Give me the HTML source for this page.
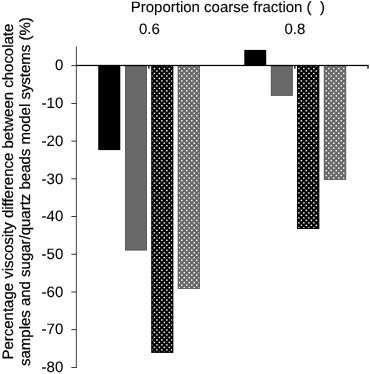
<!DOCTYPE html>
<html><head><meta charset="utf-8"><title>Chart</title>
<style>
html,body{margin:0;padding:0;background:#fff;}
body{width:370px;height:374px;overflow:hidden;}
svg{display:block;}
text{font-family:"Liberation Sans",Arial,sans-serif;font-size:15px;fill:#000;text-rendering:geometricPrecision;}
</style></head><body>
<svg width="370" height="374" viewBox="0 0 370 374">
<rect width="370" height="374" fill="#fff"/>

<rect x="98.25" y="65.45" width="22.05" height="84.65" fill="#000"/>
<rect x="125.0" y="65.45" width="22.00" height="184.90" fill="#696969"/>
<rect x="125.40" y="65.85" width="21.20" height="184.10" fill="none" stroke="#585858" stroke-width="0.8"/>
<rect x="151.4" y="65.45" width="21.80" height="287.30" fill="#000"/>
<g fill="#fff"><rect x="153.68" y="67.78" width="1.45" height="1.45"/><rect x="153.68" y="72.76" width="1.45" height="1.45"/><rect x="153.68" y="77.74" width="1.45" height="1.45"/><rect x="153.68" y="82.72" width="1.45" height="1.45"/><rect x="153.68" y="87.70" width="1.45" height="1.45"/><rect x="153.68" y="92.68" width="1.45" height="1.45"/><rect x="153.68" y="97.66" width="1.45" height="1.45"/><rect x="153.68" y="102.64" width="1.45" height="1.45"/><rect x="153.68" y="107.62" width="1.45" height="1.45"/><rect x="153.68" y="112.60" width="1.45" height="1.45"/><rect x="153.68" y="117.58" width="1.45" height="1.45"/><rect x="153.68" y="122.56" width="1.45" height="1.45"/><rect x="153.68" y="127.53" width="1.45" height="1.45"/><rect x="153.68" y="132.52" width="1.45" height="1.45"/><rect x="153.68" y="137.50" width="1.45" height="1.45"/><rect x="153.68" y="142.47" width="1.45" height="1.45"/><rect x="153.68" y="147.46" width="1.45" height="1.45"/><rect x="153.68" y="152.44" width="1.45" height="1.45"/><rect x="153.68" y="157.42" width="1.45" height="1.45"/><rect x="153.68" y="162.40" width="1.45" height="1.45"/><rect x="153.68" y="167.38" width="1.45" height="1.45"/><rect x="153.68" y="172.36" width="1.45" height="1.45"/><rect x="153.68" y="177.34" width="1.45" height="1.45"/><rect x="153.68" y="182.32" width="1.45" height="1.45"/><rect x="153.68" y="187.30" width="1.45" height="1.45"/><rect x="153.68" y="192.28" width="1.45" height="1.45"/><rect x="153.68" y="197.26" width="1.45" height="1.45"/><rect x="153.68" y="202.24" width="1.45" height="1.45"/><rect x="153.68" y="207.22" width="1.45" height="1.45"/><rect x="153.68" y="212.20" width="1.45" height="1.45"/><rect x="153.68" y="217.18" width="1.45" height="1.45"/><rect x="153.68" y="222.16" width="1.45" height="1.45"/><rect x="153.68" y="227.14" width="1.45" height="1.45"/><rect x="153.68" y="232.12" width="1.45" height="1.45"/><rect x="153.68" y="237.10" width="1.45" height="1.45"/><rect x="153.68" y="242.08" width="1.45" height="1.45"/><rect x="153.68" y="247.06" width="1.45" height="1.45"/><rect x="153.68" y="252.04" width="1.45" height="1.45"/><rect x="153.68" y="257.01" width="1.45" height="1.45"/><rect x="153.68" y="262.00" width="1.45" height="1.45"/><rect x="153.68" y="266.98" width="1.45" height="1.45"/><rect x="153.68" y="271.95" width="1.45" height="1.45"/><rect x="153.68" y="276.94" width="1.45" height="1.45"/><rect x="153.68" y="281.91" width="1.45" height="1.45"/><rect x="153.68" y="286.89" width="1.45" height="1.45"/><rect x="153.68" y="291.88" width="1.45" height="1.45"/><rect x="153.68" y="296.86" width="1.45" height="1.45"/><rect x="153.68" y="301.84" width="1.45" height="1.45"/><rect x="153.68" y="306.81" width="1.45" height="1.45"/><rect x="153.68" y="311.79" width="1.45" height="1.45"/><rect x="153.68" y="316.77" width="1.45" height="1.45"/><rect x="153.68" y="321.75" width="1.45" height="1.45"/><rect x="153.68" y="326.74" width="1.45" height="1.45"/><rect x="153.68" y="331.71" width="1.45" height="1.45"/><rect x="153.68" y="336.69" width="1.45" height="1.45"/><rect x="153.68" y="341.68" width="1.45" height="1.45"/><rect x="153.68" y="346.65" width="1.45" height="1.45"/><rect x="153.68" y="351.63" width="1.45" height="1.12"/><rect x="158.66" y="67.78" width="1.45" height="1.45"/><rect x="158.66" y="72.76" width="1.45" height="1.45"/><rect x="158.66" y="77.74" width="1.45" height="1.45"/><rect x="158.66" y="82.72" width="1.45" height="1.45"/><rect x="158.66" y="87.70" width="1.45" height="1.45"/><rect x="158.66" y="92.68" width="1.45" height="1.45"/><rect x="158.66" y="97.66" width="1.45" height="1.45"/><rect x="158.66" y="102.64" width="1.45" height="1.45"/><rect x="158.66" y="107.62" width="1.45" height="1.45"/><rect x="158.66" y="112.60" width="1.45" height="1.45"/><rect x="158.66" y="117.58" width="1.45" height="1.45"/><rect x="158.66" y="122.56" width="1.45" height="1.45"/><rect x="158.66" y="127.53" width="1.45" height="1.45"/><rect x="158.66" y="132.52" width="1.45" height="1.45"/><rect x="158.66" y="137.50" width="1.45" height="1.45"/><rect x="158.66" y="142.47" width="1.45" height="1.45"/><rect x="158.66" y="147.46" width="1.45" height="1.45"/><rect x="158.66" y="152.44" width="1.45" height="1.45"/><rect x="158.66" y="157.42" width="1.45" height="1.45"/><rect x="158.66" y="162.40" width="1.45" height="1.45"/><rect x="158.66" y="167.38" width="1.45" height="1.45"/><rect x="158.66" y="172.36" width="1.45" height="1.45"/><rect x="158.66" y="177.34" width="1.45" height="1.45"/><rect x="158.66" y="182.32" width="1.45" height="1.45"/><rect x="158.66" y="187.30" width="1.45" height="1.45"/><rect x="158.66" y="192.28" width="1.45" height="1.45"/><rect x="158.66" y="197.26" width="1.45" height="1.45"/><rect x="158.66" y="202.24" width="1.45" height="1.45"/><rect x="158.66" y="207.22" width="1.45" height="1.45"/><rect x="158.66" y="212.20" width="1.45" height="1.45"/><rect x="158.66" y="217.18" width="1.45" height="1.45"/><rect x="158.66" y="222.16" width="1.45" height="1.45"/><rect x="158.66" y="227.14" width="1.45" height="1.45"/><rect x="158.66" y="232.12" width="1.45" height="1.45"/><rect x="158.66" y="237.10" width="1.45" height="1.45"/><rect x="158.66" y="242.08" width="1.45" height="1.45"/><rect x="158.66" y="247.06" width="1.45" height="1.45"/><rect x="158.66" y="252.04" width="1.45" height="1.45"/><rect x="158.66" y="257.01" width="1.45" height="1.45"/><rect x="158.66" y="262.00" width="1.45" height="1.45"/><rect x="158.66" y="266.98" width="1.45" height="1.45"/><rect x="158.66" y="271.95" width="1.45" height="1.45"/><rect x="158.66" y="276.94" width="1.45" height="1.45"/><rect x="158.66" y="281.91" width="1.45" height="1.45"/><rect x="158.66" y="286.89" width="1.45" height="1.45"/><rect x="158.66" y="291.88" width="1.45" height="1.45"/><rect x="158.66" y="296.86" width="1.45" height="1.45"/><rect x="158.66" y="301.84" width="1.45" height="1.45"/><rect x="158.66" y="306.81" width="1.45" height="1.45"/><rect x="158.66" y="311.79" width="1.45" height="1.45"/><rect x="158.66" y="316.77" width="1.45" height="1.45"/><rect x="158.66" y="321.75" width="1.45" height="1.45"/><rect x="158.66" y="326.74" width="1.45" height="1.45"/><rect x="158.66" y="331.71" width="1.45" height="1.45"/><rect x="158.66" y="336.69" width="1.45" height="1.45"/><rect x="158.66" y="341.68" width="1.45" height="1.45"/><rect x="158.66" y="346.65" width="1.45" height="1.45"/><rect x="158.66" y="351.63" width="1.45" height="1.12"/><rect x="163.64" y="67.78" width="1.45" height="1.45"/><rect x="163.64" y="72.76" width="1.45" height="1.45"/><rect x="163.64" y="77.74" width="1.45" height="1.45"/><rect x="163.64" y="82.72" width="1.45" height="1.45"/><rect x="163.64" y="87.70" width="1.45" height="1.45"/><rect x="163.64" y="92.68" width="1.45" height="1.45"/><rect x="163.64" y="97.66" width="1.45" height="1.45"/><rect x="163.64" y="102.64" width="1.45" height="1.45"/><rect x="163.64" y="107.62" width="1.45" height="1.45"/><rect x="163.64" y="112.60" width="1.45" height="1.45"/><rect x="163.64" y="117.58" width="1.45" height="1.45"/><rect x="163.64" y="122.56" width="1.45" height="1.45"/><rect x="163.64" y="127.53" width="1.45" height="1.45"/><rect x="163.64" y="132.52" width="1.45" height="1.45"/><rect x="163.64" y="137.50" width="1.45" height="1.45"/><rect x="163.64" y="142.47" width="1.45" height="1.45"/><rect x="163.64" y="147.46" width="1.45" height="1.45"/><rect x="163.64" y="152.44" width="1.45" height="1.45"/><rect x="163.64" y="157.42" width="1.45" height="1.45"/><rect x="163.64" y="162.40" width="1.45" height="1.45"/><rect x="163.64" y="167.38" width="1.45" height="1.45"/><rect x="163.64" y="172.36" width="1.45" height="1.45"/><rect x="163.64" y="177.34" width="1.45" height="1.45"/><rect x="163.64" y="182.32" width="1.45" height="1.45"/><rect x="163.64" y="187.30" width="1.45" height="1.45"/><rect x="163.64" y="192.28" width="1.45" height="1.45"/><rect x="163.64" y="197.26" width="1.45" height="1.45"/><rect x="163.64" y="202.24" width="1.45" height="1.45"/><rect x="163.64" y="207.22" width="1.45" height="1.45"/><rect x="163.64" y="212.20" width="1.45" height="1.45"/><rect x="163.64" y="217.18" width="1.45" height="1.45"/><rect x="163.64" y="222.16" width="1.45" height="1.45"/><rect x="163.64" y="227.14" width="1.45" height="1.45"/><rect x="163.64" y="232.12" width="1.45" height="1.45"/><rect x="163.64" y="237.10" width="1.45" height="1.45"/><rect x="163.64" y="242.08" width="1.45" height="1.45"/><rect x="163.64" y="247.06" width="1.45" height="1.45"/><rect x="163.64" y="252.04" width="1.45" height="1.45"/><rect x="163.64" y="257.01" width="1.45" height="1.45"/><rect x="163.64" y="262.00" width="1.45" height="1.45"/><rect x="163.64" y="266.98" width="1.45" height="1.45"/><rect x="163.64" y="271.95" width="1.45" height="1.45"/><rect x="163.64" y="276.94" width="1.45" height="1.45"/><rect x="163.64" y="281.91" width="1.45" height="1.45"/><rect x="163.64" y="286.89" width="1.45" height="1.45"/><rect x="163.64" y="291.88" width="1.45" height="1.45"/><rect x="163.64" y="296.86" width="1.45" height="1.45"/><rect x="163.64" y="301.84" width="1.45" height="1.45"/><rect x="163.64" y="306.81" width="1.45" height="1.45"/><rect x="163.64" y="311.79" width="1.45" height="1.45"/><rect x="163.64" y="316.77" width="1.45" height="1.45"/><rect x="163.64" y="321.75" width="1.45" height="1.45"/><rect x="163.64" y="326.74" width="1.45" height="1.45"/><rect x="163.64" y="331.71" width="1.45" height="1.45"/><rect x="163.64" y="336.69" width="1.45" height="1.45"/><rect x="163.64" y="341.68" width="1.45" height="1.45"/><rect x="163.64" y="346.65" width="1.45" height="1.45"/><rect x="163.64" y="351.63" width="1.45" height="1.12"/><rect x="168.62" y="67.78" width="1.45" height="1.45"/><rect x="168.62" y="72.76" width="1.45" height="1.45"/><rect x="168.62" y="77.74" width="1.45" height="1.45"/><rect x="168.62" y="82.72" width="1.45" height="1.45"/><rect x="168.62" y="87.70" width="1.45" height="1.45"/><rect x="168.62" y="92.68" width="1.45" height="1.45"/><rect x="168.62" y="97.66" width="1.45" height="1.45"/><rect x="168.62" y="102.64" width="1.45" height="1.45"/><rect x="168.62" y="107.62" width="1.45" height="1.45"/><rect x="168.62" y="112.60" width="1.45" height="1.45"/><rect x="168.62" y="117.58" width="1.45" height="1.45"/><rect x="168.62" y="122.56" width="1.45" height="1.45"/><rect x="168.62" y="127.53" width="1.45" height="1.45"/><rect x="168.62" y="132.52" width="1.45" height="1.45"/><rect x="168.62" y="137.50" width="1.45" height="1.45"/><rect x="168.62" y="142.47" width="1.45" height="1.45"/><rect x="168.62" y="147.46" width="1.45" height="1.45"/><rect x="168.62" y="152.44" width="1.45" height="1.45"/><rect x="168.62" y="157.42" width="1.45" height="1.45"/><rect x="168.62" y="162.40" width="1.45" height="1.45"/><rect x="168.62" y="167.38" width="1.45" height="1.45"/><rect x="168.62" y="172.36" width="1.45" height="1.45"/><rect x="168.62" y="177.34" width="1.45" height="1.45"/><rect x="168.62" y="182.32" width="1.45" height="1.45"/><rect x="168.62" y="187.30" width="1.45" height="1.45"/><rect x="168.62" y="192.28" width="1.45" height="1.45"/><rect x="168.62" y="197.26" width="1.45" height="1.45"/><rect x="168.62" y="202.24" width="1.45" height="1.45"/><rect x="168.62" y="207.22" width="1.45" height="1.45"/><rect x="168.62" y="212.20" width="1.45" height="1.45"/><rect x="168.62" y="217.18" width="1.45" height="1.45"/><rect x="168.62" y="222.16" width="1.45" height="1.45"/><rect x="168.62" y="227.14" width="1.45" height="1.45"/><rect x="168.62" y="232.12" width="1.45" height="1.45"/><rect x="168.62" y="237.10" width="1.45" height="1.45"/><rect x="168.62" y="242.08" width="1.45" height="1.45"/><rect x="168.62" y="247.06" width="1.45" height="1.45"/><rect x="168.62" y="252.04" width="1.45" height="1.45"/><rect x="168.62" y="257.01" width="1.45" height="1.45"/><rect x="168.62" y="262.00" width="1.45" height="1.45"/><rect x="168.62" y="266.98" width="1.45" height="1.45"/><rect x="168.62" y="271.95" width="1.45" height="1.45"/><rect x="168.62" y="276.94" width="1.45" height="1.45"/><rect x="168.62" y="281.91" width="1.45" height="1.45"/><rect x="168.62" y="286.89" width="1.45" height="1.45"/><rect x="168.62" y="291.88" width="1.45" height="1.45"/><rect x="168.62" y="296.86" width="1.45" height="1.45"/><rect x="168.62" y="301.84" width="1.45" height="1.45"/><rect x="168.62" y="306.81" width="1.45" height="1.45"/><rect x="168.62" y="311.79" width="1.45" height="1.45"/><rect x="168.62" y="316.77" width="1.45" height="1.45"/><rect x="168.62" y="321.75" width="1.45" height="1.45"/><rect x="168.62" y="326.74" width="1.45" height="1.45"/><rect x="168.62" y="331.71" width="1.45" height="1.45"/><rect x="168.62" y="336.69" width="1.45" height="1.45"/><rect x="168.62" y="341.68" width="1.45" height="1.45"/><rect x="168.62" y="346.65" width="1.45" height="1.45"/><rect x="168.62" y="351.63" width="1.45" height="1.12"/><rect x="151.40" y="65.45" width="1.22" height="1.26"/><rect x="151.40" y="70.25" width="1.22" height="1.45"/><rect x="151.40" y="75.23" width="1.22" height="1.45"/><rect x="151.40" y="80.21" width="1.22" height="1.45"/><rect x="151.40" y="85.19" width="1.22" height="1.45"/><rect x="151.40" y="90.17" width="1.22" height="1.45"/><rect x="151.40" y="95.15" width="1.22" height="1.45"/><rect x="151.40" y="100.12" width="1.22" height="1.45"/><rect x="151.40" y="105.11" width="1.22" height="1.45"/><rect x="151.40" y="110.09" width="1.22" height="1.45"/><rect x="151.40" y="115.07" width="1.22" height="1.45"/><rect x="151.40" y="120.05" width="1.22" height="1.45"/><rect x="151.40" y="125.03" width="1.22" height="1.45"/><rect x="151.40" y="130.01" width="1.22" height="1.45"/><rect x="151.40" y="134.99" width="1.22" height="1.45"/><rect x="151.40" y="139.97" width="1.22" height="1.45"/><rect x="151.40" y="144.95" width="1.22" height="1.45"/><rect x="151.40" y="149.93" width="1.22" height="1.45"/><rect x="151.40" y="154.91" width="1.22" height="1.45"/><rect x="151.40" y="159.89" width="1.22" height="1.45"/><rect x="151.40" y="164.87" width="1.22" height="1.45"/><rect x="151.40" y="169.84" width="1.22" height="1.45"/><rect x="151.40" y="174.83" width="1.22" height="1.45"/><rect x="151.40" y="179.81" width="1.22" height="1.45"/><rect x="151.40" y="184.78" width="1.22" height="1.45"/><rect x="151.40" y="189.77" width="1.22" height="1.45"/><rect x="151.40" y="194.75" width="1.22" height="1.45"/><rect x="151.40" y="199.73" width="1.22" height="1.45"/><rect x="151.40" y="204.71" width="1.22" height="1.45"/><rect x="151.40" y="209.69" width="1.22" height="1.45"/><rect x="151.40" y="214.67" width="1.22" height="1.45"/><rect x="151.40" y="219.65" width="1.22" height="1.45"/><rect x="151.40" y="224.63" width="1.22" height="1.45"/><rect x="151.40" y="229.61" width="1.22" height="1.45"/><rect x="151.40" y="234.59" width="1.22" height="1.45"/><rect x="151.40" y="239.57" width="1.22" height="1.45"/><rect x="151.40" y="244.55" width="1.22" height="1.45"/><rect x="151.40" y="249.53" width="1.22" height="1.45"/><rect x="151.40" y="254.51" width="1.22" height="1.45"/><rect x="151.40" y="259.49" width="1.22" height="1.45"/><rect x="151.40" y="264.47" width="1.22" height="1.45"/><rect x="151.40" y="269.44" width="1.22" height="1.45"/><rect x="151.40" y="274.42" width="1.22" height="1.45"/><rect x="151.40" y="279.40" width="1.22" height="1.45"/><rect x="151.40" y="284.38" width="1.22" height="1.45"/><rect x="151.40" y="289.37" width="1.22" height="1.45"/><rect x="151.40" y="294.35" width="1.22" height="1.45"/><rect x="151.40" y="299.32" width="1.22" height="1.45"/><rect x="151.40" y="304.31" width="1.22" height="1.45"/><rect x="151.40" y="309.28" width="1.22" height="1.45"/><rect x="151.40" y="314.26" width="1.22" height="1.45"/><rect x="151.40" y="319.25" width="1.22" height="1.45"/><rect x="151.40" y="324.23" width="1.22" height="1.45"/><rect x="151.40" y="329.21" width="1.22" height="1.45"/><rect x="151.40" y="334.18" width="1.22" height="1.45"/><rect x="151.40" y="339.16" width="1.22" height="1.45"/><rect x="151.40" y="344.14" width="1.22" height="1.45"/><rect x="151.40" y="349.12" width="1.22" height="1.45"/><rect x="156.16" y="65.45" width="1.45" height="1.26"/><rect x="156.16" y="70.25" width="1.45" height="1.45"/><rect x="156.16" y="75.23" width="1.45" height="1.45"/><rect x="156.16" y="80.21" width="1.45" height="1.45"/><rect x="156.16" y="85.19" width="1.45" height="1.45"/><rect x="156.16" y="90.17" width="1.45" height="1.45"/><rect x="156.16" y="95.15" width="1.45" height="1.45"/><rect x="156.16" y="100.12" width="1.45" height="1.45"/><rect x="156.16" y="105.11" width="1.45" height="1.45"/><rect x="156.16" y="110.09" width="1.45" height="1.45"/><rect x="156.16" y="115.07" width="1.45" height="1.45"/><rect x="156.16" y="120.05" width="1.45" height="1.45"/><rect x="156.16" y="125.03" width="1.45" height="1.45"/><rect x="156.16" y="130.01" width="1.45" height="1.45"/><rect x="156.16" y="134.99" width="1.45" height="1.45"/><rect x="156.16" y="139.97" width="1.45" height="1.45"/><rect x="156.16" y="144.95" width="1.45" height="1.45"/><rect x="156.16" y="149.93" width="1.45" height="1.45"/><rect x="156.16" y="154.91" width="1.45" height="1.45"/><rect x="156.16" y="159.89" width="1.45" height="1.45"/><rect x="156.16" y="164.87" width="1.45" height="1.45"/><rect x="156.16" y="169.84" width="1.45" height="1.45"/><rect x="156.16" y="174.83" width="1.45" height="1.45"/><rect x="156.16" y="179.81" width="1.45" height="1.45"/><rect x="156.16" y="184.78" width="1.45" height="1.45"/><rect x="156.16" y="189.77" width="1.45" height="1.45"/><rect x="156.16" y="194.75" width="1.45" height="1.45"/><rect x="156.16" y="199.73" width="1.45" height="1.45"/><rect x="156.16" y="204.71" width="1.45" height="1.45"/><rect x="156.16" y="209.69" width="1.45" height="1.45"/><rect x="156.16" y="214.67" width="1.45" height="1.45"/><rect x="156.16" y="219.65" width="1.45" height="1.45"/><rect x="156.16" y="224.63" width="1.45" height="1.45"/><rect x="156.16" y="229.61" width="1.45" height="1.45"/><rect x="156.16" y="234.59" width="1.45" height="1.45"/><rect x="156.16" y="239.57" width="1.45" height="1.45"/><rect x="156.16" y="244.55" width="1.45" height="1.45"/><rect x="156.16" y="249.53" width="1.45" height="1.45"/><rect x="156.16" y="254.51" width="1.45" height="1.45"/><rect x="156.16" y="259.49" width="1.45" height="1.45"/><rect x="156.16" y="264.47" width="1.45" height="1.45"/><rect x="156.16" y="269.44" width="1.45" height="1.45"/><rect x="156.16" y="274.42" width="1.45" height="1.45"/><rect x="156.16" y="279.40" width="1.45" height="1.45"/><rect x="156.16" y="284.38" width="1.45" height="1.45"/><rect x="156.16" y="289.37" width="1.45" height="1.45"/><rect x="156.16" y="294.35" width="1.45" height="1.45"/><rect x="156.16" y="299.32" width="1.45" height="1.45"/><rect x="156.16" y="304.31" width="1.45" height="1.45"/><rect x="156.16" y="309.28" width="1.45" height="1.45"/><rect x="156.16" y="314.26" width="1.45" height="1.45"/><rect x="156.16" y="319.25" width="1.45" height="1.45"/><rect x="156.16" y="324.23" width="1.45" height="1.45"/><rect x="156.16" y="329.21" width="1.45" height="1.45"/><rect x="156.16" y="334.18" width="1.45" height="1.45"/><rect x="156.16" y="339.16" width="1.45" height="1.45"/><rect x="156.16" y="344.14" width="1.45" height="1.45"/><rect x="156.16" y="349.12" width="1.45" height="1.45"/><rect x="161.14" y="65.45" width="1.45" height="1.26"/><rect x="161.14" y="70.25" width="1.45" height="1.45"/><rect x="161.14" y="75.23" width="1.45" height="1.45"/><rect x="161.14" y="80.21" width="1.45" height="1.45"/><rect x="161.14" y="85.19" width="1.45" height="1.45"/><rect x="161.14" y="90.17" width="1.45" height="1.45"/><rect x="161.14" y="95.15" width="1.45" height="1.45"/><rect x="161.14" y="100.12" width="1.45" height="1.45"/><rect x="161.14" y="105.11" width="1.45" height="1.45"/><rect x="161.14" y="110.09" width="1.45" height="1.45"/><rect x="161.14" y="115.07" width="1.45" height="1.45"/><rect x="161.14" y="120.05" width="1.45" height="1.45"/><rect x="161.14" y="125.03" width="1.45" height="1.45"/><rect x="161.14" y="130.01" width="1.45" height="1.45"/><rect x="161.14" y="134.99" width="1.45" height="1.45"/><rect x="161.14" y="139.97" width="1.45" height="1.45"/><rect x="161.14" y="144.95" width="1.45" height="1.45"/><rect x="161.14" y="149.93" width="1.45" height="1.45"/><rect x="161.14" y="154.91" width="1.45" height="1.45"/><rect x="161.14" y="159.89" width="1.45" height="1.45"/><rect x="161.14" y="164.87" width="1.45" height="1.45"/><rect x="161.14" y="169.84" width="1.45" height="1.45"/><rect x="161.14" y="174.83" width="1.45" height="1.45"/><rect x="161.14" y="179.81" width="1.45" height="1.45"/><rect x="161.14" y="184.78" width="1.45" height="1.45"/><rect x="161.14" y="189.77" width="1.45" height="1.45"/><rect x="161.14" y="194.75" width="1.45" height="1.45"/><rect x="161.14" y="199.73" width="1.45" height="1.45"/><rect x="161.14" y="204.71" width="1.45" height="1.45"/><rect x="161.14" y="209.69" width="1.45" height="1.45"/><rect x="161.14" y="214.67" width="1.45" height="1.45"/><rect x="161.14" y="219.65" width="1.45" height="1.45"/><rect x="161.14" y="224.63" width="1.45" height="1.45"/><rect x="161.14" y="229.61" width="1.45" height="1.45"/><rect x="161.14" y="234.59" width="1.45" height="1.45"/><rect x="161.14" y="239.57" width="1.45" height="1.45"/><rect x="161.14" y="244.55" width="1.45" height="1.45"/><rect x="161.14" y="249.53" width="1.45" height="1.45"/><rect x="161.14" y="254.51" width="1.45" height="1.45"/><rect x="161.14" y="259.49" width="1.45" height="1.45"/><rect x="161.14" y="264.47" width="1.45" height="1.45"/><rect x="161.14" y="269.44" width="1.45" height="1.45"/><rect x="161.14" y="274.42" width="1.45" height="1.45"/><rect x="161.14" y="279.40" width="1.45" height="1.45"/><rect x="161.14" y="284.38" width="1.45" height="1.45"/><rect x="161.14" y="289.37" width="1.45" height="1.45"/><rect x="161.14" y="294.35" width="1.45" height="1.45"/><rect x="161.14" y="299.32" width="1.45" height="1.45"/><rect x="161.14" y="304.31" width="1.45" height="1.45"/><rect x="161.14" y="309.28" width="1.45" height="1.45"/><rect x="161.14" y="314.26" width="1.45" height="1.45"/><rect x="161.14" y="319.25" width="1.45" height="1.45"/><rect x="161.14" y="324.23" width="1.45" height="1.45"/><rect x="161.14" y="329.21" width="1.45" height="1.45"/><rect x="161.14" y="334.18" width="1.45" height="1.45"/><rect x="161.14" y="339.16" width="1.45" height="1.45"/><rect x="161.14" y="344.14" width="1.45" height="1.45"/><rect x="161.14" y="349.12" width="1.45" height="1.45"/><rect x="166.12" y="65.45" width="1.45" height="1.26"/><rect x="166.12" y="70.25" width="1.45" height="1.45"/><rect x="166.12" y="75.23" width="1.45" height="1.45"/><rect x="166.12" y="80.21" width="1.45" height="1.45"/><rect x="166.12" y="85.19" width="1.45" height="1.45"/><rect x="166.12" y="90.17" width="1.45" height="1.45"/><rect x="166.12" y="95.15" width="1.45" height="1.45"/><rect x="166.12" y="100.12" width="1.45" height="1.45"/><rect x="166.12" y="105.11" width="1.45" height="1.45"/><rect x="166.12" y="110.09" width="1.45" height="1.45"/><rect x="166.12" y="115.07" width="1.45" height="1.45"/><rect x="166.12" y="120.05" width="1.45" height="1.45"/><rect x="166.12" y="125.03" width="1.45" height="1.45"/><rect x="166.12" y="130.01" width="1.45" height="1.45"/><rect x="166.12" y="134.99" width="1.45" height="1.45"/><rect x="166.12" y="139.97" width="1.45" height="1.45"/><rect x="166.12" y="144.95" width="1.45" height="1.45"/><rect x="166.12" y="149.93" width="1.45" height="1.45"/><rect x="166.12" y="154.91" width="1.45" height="1.45"/><rect x="166.12" y="159.89" width="1.45" height="1.45"/><rect x="166.12" y="164.87" width="1.45" height="1.45"/><rect x="166.12" y="169.84" width="1.45" height="1.45"/><rect x="166.12" y="174.83" width="1.45" height="1.45"/><rect x="166.12" y="179.81" width="1.45" height="1.45"/><rect x="166.12" y="184.78" width="1.45" height="1.45"/><rect x="166.12" y="189.77" width="1.45" height="1.45"/><rect x="166.12" y="194.75" width="1.45" height="1.45"/><rect x="166.12" y="199.73" width="1.45" height="1.45"/><rect x="166.12" y="204.71" width="1.45" height="1.45"/><rect x="166.12" y="209.69" width="1.45" height="1.45"/><rect x="166.12" y="214.67" width="1.45" height="1.45"/><rect x="166.12" y="219.65" width="1.45" height="1.45"/><rect x="166.12" y="224.63" width="1.45" height="1.45"/><rect x="166.12" y="229.61" width="1.45" height="1.45"/><rect x="166.12" y="234.59" width="1.45" height="1.45"/><rect x="166.12" y="239.57" width="1.45" height="1.45"/><rect x="166.12" y="244.55" width="1.45" height="1.45"/><rect x="166.12" y="249.53" width="1.45" height="1.45"/><rect x="166.12" y="254.51" width="1.45" height="1.45"/><rect x="166.12" y="259.49" width="1.45" height="1.45"/><rect x="166.12" y="264.47" width="1.45" height="1.45"/><rect x="166.12" y="269.44" width="1.45" height="1.45"/><rect x="166.12" y="274.42" width="1.45" height="1.45"/><rect x="166.12" y="279.40" width="1.45" height="1.45"/><rect x="166.12" y="284.38" width="1.45" height="1.45"/><rect x="166.12" y="289.37" width="1.45" height="1.45"/><rect x="166.12" y="294.35" width="1.45" height="1.45"/><rect x="166.12" y="299.32" width="1.45" height="1.45"/><rect x="166.12" y="304.31" width="1.45" height="1.45"/><rect x="166.12" y="309.28" width="1.45" height="1.45"/><rect x="166.12" y="314.26" width="1.45" height="1.45"/><rect x="166.12" y="319.25" width="1.45" height="1.45"/><rect x="166.12" y="324.23" width="1.45" height="1.45"/><rect x="166.12" y="329.21" width="1.45" height="1.45"/><rect x="166.12" y="334.18" width="1.45" height="1.45"/><rect x="166.12" y="339.16" width="1.45" height="1.45"/><rect x="166.12" y="344.14" width="1.45" height="1.45"/><rect x="166.12" y="349.12" width="1.45" height="1.45"/><rect x="171.10" y="65.45" width="1.45" height="1.26"/><rect x="171.10" y="70.25" width="1.45" height="1.45"/><rect x="171.10" y="75.23" width="1.45" height="1.45"/><rect x="171.10" y="80.21" width="1.45" height="1.45"/><rect x="171.10" y="85.19" width="1.45" height="1.45"/><rect x="171.10" y="90.17" width="1.45" height="1.45"/><rect x="171.10" y="95.15" width="1.45" height="1.45"/><rect x="171.10" y="100.12" width="1.45" height="1.45"/><rect x="171.10" y="105.11" width="1.45" height="1.45"/><rect x="171.10" y="110.09" width="1.45" height="1.45"/><rect x="171.10" y="115.07" width="1.45" height="1.45"/><rect x="171.10" y="120.05" width="1.45" height="1.45"/><rect x="171.10" y="125.03" width="1.45" height="1.45"/><rect x="171.10" y="130.01" width="1.45" height="1.45"/><rect x="171.10" y="134.99" width="1.45" height="1.45"/><rect x="171.10" y="139.97" width="1.45" height="1.45"/><rect x="171.10" y="144.95" width="1.45" height="1.45"/><rect x="171.10" y="149.93" width="1.45" height="1.45"/><rect x="171.10" y="154.91" width="1.45" height="1.45"/><rect x="171.10" y="159.89" width="1.45" height="1.45"/><rect x="171.10" y="164.87" width="1.45" height="1.45"/><rect x="171.10" y="169.84" width="1.45" height="1.45"/><rect x="171.10" y="174.83" width="1.45" height="1.45"/><rect x="171.10" y="179.81" width="1.45" height="1.45"/><rect x="171.10" y="184.78" width="1.45" height="1.45"/><rect x="171.10" y="189.77" width="1.45" height="1.45"/><rect x="171.10" y="194.75" width="1.45" height="1.45"/><rect x="171.10" y="199.73" width="1.45" height="1.45"/><rect x="171.10" y="204.71" width="1.45" height="1.45"/><rect x="171.10" y="209.69" width="1.45" height="1.45"/><rect x="171.10" y="214.67" width="1.45" height="1.45"/><rect x="171.10" y="219.65" width="1.45" height="1.45"/><rect x="171.10" y="224.63" width="1.45" height="1.45"/><rect x="171.10" y="229.61" width="1.45" height="1.45"/><rect x="171.10" y="234.59" width="1.45" height="1.45"/><rect x="171.10" y="239.57" width="1.45" height="1.45"/><rect x="171.10" y="244.55" width="1.45" height="1.45"/><rect x="171.10" y="249.53" width="1.45" height="1.45"/><rect x="171.10" y="254.51" width="1.45" height="1.45"/><rect x="171.10" y="259.49" width="1.45" height="1.45"/><rect x="171.10" y="264.47" width="1.45" height="1.45"/><rect x="171.10" y="269.44" width="1.45" height="1.45"/><rect x="171.10" y="274.42" width="1.45" height="1.45"/><rect x="171.10" y="279.40" width="1.45" height="1.45"/><rect x="171.10" y="284.38" width="1.45" height="1.45"/><rect x="171.10" y="289.37" width="1.45" height="1.45"/><rect x="171.10" y="294.35" width="1.45" height="1.45"/><rect x="171.10" y="299.32" width="1.45" height="1.45"/><rect x="171.10" y="304.31" width="1.45" height="1.45"/><rect x="171.10" y="309.28" width="1.45" height="1.45"/><rect x="171.10" y="314.26" width="1.45" height="1.45"/><rect x="171.10" y="319.25" width="1.45" height="1.45"/><rect x="171.10" y="324.23" width="1.45" height="1.45"/><rect x="171.10" y="329.21" width="1.45" height="1.45"/><rect x="171.10" y="334.18" width="1.45" height="1.45"/><rect x="171.10" y="339.16" width="1.45" height="1.45"/><rect x="171.10" y="344.14" width="1.45" height="1.45"/><rect x="171.10" y="349.12" width="1.45" height="1.45"/></g>
<rect x="151.90" y="65.95" width="20.80" height="286.30" fill="none" stroke="#000" stroke-width="1.0"/>
<rect x="177.8" y="65.45" width="22.10" height="223.30" fill="#686868"/>
<g fill="#fff"><rect x="178.59" y="67.78" width="1.45" height="1.45"/><rect x="178.59" y="72.76" width="1.45" height="1.45"/><rect x="178.59" y="77.74" width="1.45" height="1.45"/><rect x="178.59" y="82.72" width="1.45" height="1.45"/><rect x="178.59" y="87.70" width="1.45" height="1.45"/><rect x="178.59" y="92.68" width="1.45" height="1.45"/><rect x="178.59" y="97.66" width="1.45" height="1.45"/><rect x="178.59" y="102.64" width="1.45" height="1.45"/><rect x="178.59" y="107.62" width="1.45" height="1.45"/><rect x="178.59" y="112.60" width="1.45" height="1.45"/><rect x="178.59" y="117.58" width="1.45" height="1.45"/><rect x="178.59" y="122.56" width="1.45" height="1.45"/><rect x="178.59" y="127.53" width="1.45" height="1.45"/><rect x="178.59" y="132.52" width="1.45" height="1.45"/><rect x="178.59" y="137.50" width="1.45" height="1.45"/><rect x="178.59" y="142.47" width="1.45" height="1.45"/><rect x="178.59" y="147.46" width="1.45" height="1.45"/><rect x="178.59" y="152.44" width="1.45" height="1.45"/><rect x="178.59" y="157.42" width="1.45" height="1.45"/><rect x="178.59" y="162.40" width="1.45" height="1.45"/><rect x="178.59" y="167.38" width="1.45" height="1.45"/><rect x="178.59" y="172.36" width="1.45" height="1.45"/><rect x="178.59" y="177.34" width="1.45" height="1.45"/><rect x="178.59" y="182.32" width="1.45" height="1.45"/><rect x="178.59" y="187.30" width="1.45" height="1.45"/><rect x="178.59" y="192.28" width="1.45" height="1.45"/><rect x="178.59" y="197.26" width="1.45" height="1.45"/><rect x="178.59" y="202.24" width="1.45" height="1.45"/><rect x="178.59" y="207.22" width="1.45" height="1.45"/><rect x="178.59" y="212.20" width="1.45" height="1.45"/><rect x="178.59" y="217.18" width="1.45" height="1.45"/><rect x="178.59" y="222.16" width="1.45" height="1.45"/><rect x="178.59" y="227.14" width="1.45" height="1.45"/><rect x="178.59" y="232.12" width="1.45" height="1.45"/><rect x="178.59" y="237.10" width="1.45" height="1.45"/><rect x="178.59" y="242.08" width="1.45" height="1.45"/><rect x="178.59" y="247.06" width="1.45" height="1.45"/><rect x="178.59" y="252.04" width="1.45" height="1.45"/><rect x="178.59" y="257.01" width="1.45" height="1.45"/><rect x="178.59" y="262.00" width="1.45" height="1.45"/><rect x="178.59" y="266.98" width="1.45" height="1.45"/><rect x="178.59" y="271.95" width="1.45" height="1.45"/><rect x="178.59" y="276.94" width="1.45" height="1.45"/><rect x="178.59" y="281.91" width="1.45" height="1.45"/><rect x="178.59" y="286.89" width="1.45" height="1.45"/><rect x="183.57" y="67.78" width="1.45" height="1.45"/><rect x="183.57" y="72.76" width="1.45" height="1.45"/><rect x="183.57" y="77.74" width="1.45" height="1.45"/><rect x="183.57" y="82.72" width="1.45" height="1.45"/><rect x="183.57" y="87.70" width="1.45" height="1.45"/><rect x="183.57" y="92.68" width="1.45" height="1.45"/><rect x="183.57" y="97.66" width="1.45" height="1.45"/><rect x="183.57" y="102.64" width="1.45" height="1.45"/><rect x="183.57" y="107.62" width="1.45" height="1.45"/><rect x="183.57" y="112.60" width="1.45" height="1.45"/><rect x="183.57" y="117.58" width="1.45" height="1.45"/><rect x="183.57" y="122.56" width="1.45" height="1.45"/><rect x="183.57" y="127.53" width="1.45" height="1.45"/><rect x="183.57" y="132.52" width="1.45" height="1.45"/><rect x="183.57" y="137.50" width="1.45" height="1.45"/><rect x="183.57" y="142.47" width="1.45" height="1.45"/><rect x="183.57" y="147.46" width="1.45" height="1.45"/><rect x="183.57" y="152.44" width="1.45" height="1.45"/><rect x="183.57" y="157.42" width="1.45" height="1.45"/><rect x="183.57" y="162.40" width="1.45" height="1.45"/><rect x="183.57" y="167.38" width="1.45" height="1.45"/><rect x="183.57" y="172.36" width="1.45" height="1.45"/><rect x="183.57" y="177.34" width="1.45" height="1.45"/><rect x="183.57" y="182.32" width="1.45" height="1.45"/><rect x="183.57" y="187.30" width="1.45" height="1.45"/><rect x="183.57" y="192.28" width="1.45" height="1.45"/><rect x="183.57" y="197.26" width="1.45" height="1.45"/><rect x="183.57" y="202.24" width="1.45" height="1.45"/><rect x="183.57" y="207.22" width="1.45" height="1.45"/><rect x="183.57" y="212.20" width="1.45" height="1.45"/><rect x="183.57" y="217.18" width="1.45" height="1.45"/><rect x="183.57" y="222.16" width="1.45" height="1.45"/><rect x="183.57" y="227.14" width="1.45" height="1.45"/><rect x="183.57" y="232.12" width="1.45" height="1.45"/><rect x="183.57" y="237.10" width="1.45" height="1.45"/><rect x="183.57" y="242.08" width="1.45" height="1.45"/><rect x="183.57" y="247.06" width="1.45" height="1.45"/><rect x="183.57" y="252.04" width="1.45" height="1.45"/><rect x="183.57" y="257.01" width="1.45" height="1.45"/><rect x="183.57" y="262.00" width="1.45" height="1.45"/><rect x="183.57" y="266.98" width="1.45" height="1.45"/><rect x="183.57" y="271.95" width="1.45" height="1.45"/><rect x="183.57" y="276.94" width="1.45" height="1.45"/><rect x="183.57" y="281.91" width="1.45" height="1.45"/><rect x="183.57" y="286.89" width="1.45" height="1.45"/><rect x="188.55" y="67.78" width="1.45" height="1.45"/><rect x="188.55" y="72.76" width="1.45" height="1.45"/><rect x="188.55" y="77.74" width="1.45" height="1.45"/><rect x="188.55" y="82.72" width="1.45" height="1.45"/><rect x="188.55" y="87.70" width="1.45" height="1.45"/><rect x="188.55" y="92.68" width="1.45" height="1.45"/><rect x="188.55" y="97.66" width="1.45" height="1.45"/><rect x="188.55" y="102.64" width="1.45" height="1.45"/><rect x="188.55" y="107.62" width="1.45" height="1.45"/><rect x="188.55" y="112.60" width="1.45" height="1.45"/><rect x="188.55" y="117.58" width="1.45" height="1.45"/><rect x="188.55" y="122.56" width="1.45" height="1.45"/><rect x="188.55" y="127.53" width="1.45" height="1.45"/><rect x="188.55" y="132.52" width="1.45" height="1.45"/><rect x="188.55" y="137.50" width="1.45" height="1.45"/><rect x="188.55" y="142.47" width="1.45" height="1.45"/><rect x="188.55" y="147.46" width="1.45" height="1.45"/><rect x="188.55" y="152.44" width="1.45" height="1.45"/><rect x="188.55" y="157.42" width="1.45" height="1.45"/><rect x="188.55" y="162.40" width="1.45" height="1.45"/><rect x="188.55" y="167.38" width="1.45" height="1.45"/><rect x="188.55" y="172.36" width="1.45" height="1.45"/><rect x="188.55" y="177.34" width="1.45" height="1.45"/><rect x="188.55" y="182.32" width="1.45" height="1.45"/><rect x="188.55" y="187.30" width="1.45" height="1.45"/><rect x="188.55" y="192.28" width="1.45" height="1.45"/><rect x="188.55" y="197.26" width="1.45" height="1.45"/><rect x="188.55" y="202.24" width="1.45" height="1.45"/><rect x="188.55" y="207.22" width="1.45" height="1.45"/><rect x="188.55" y="212.20" width="1.45" height="1.45"/><rect x="188.55" y="217.18" width="1.45" height="1.45"/><rect x="188.55" y="222.16" width="1.45" height="1.45"/><rect x="188.55" y="227.14" width="1.45" height="1.45"/><rect x="188.55" y="232.12" width="1.45" height="1.45"/><rect x="188.55" y="237.10" width="1.45" height="1.45"/><rect x="188.55" y="242.08" width="1.45" height="1.45"/><rect x="188.55" y="247.06" width="1.45" height="1.45"/><rect x="188.55" y="252.04" width="1.45" height="1.45"/><rect x="188.55" y="257.01" width="1.45" height="1.45"/><rect x="188.55" y="262.00" width="1.45" height="1.45"/><rect x="188.55" y="266.98" width="1.45" height="1.45"/><rect x="188.55" y="271.95" width="1.45" height="1.45"/><rect x="188.55" y="276.94" width="1.45" height="1.45"/><rect x="188.55" y="281.91" width="1.45" height="1.45"/><rect x="188.55" y="286.89" width="1.45" height="1.45"/><rect x="193.53" y="67.78" width="1.45" height="1.45"/><rect x="193.53" y="72.76" width="1.45" height="1.45"/><rect x="193.53" y="77.74" width="1.45" height="1.45"/><rect x="193.53" y="82.72" width="1.45" height="1.45"/><rect x="193.53" y="87.70" width="1.45" height="1.45"/><rect x="193.53" y="92.68" width="1.45" height="1.45"/><rect x="193.53" y="97.66" width="1.45" height="1.45"/><rect x="193.53" y="102.64" width="1.45" height="1.45"/><rect x="193.53" y="107.62" width="1.45" height="1.45"/><rect x="193.53" y="112.60" width="1.45" height="1.45"/><rect x="193.53" y="117.58" width="1.45" height="1.45"/><rect x="193.53" y="122.56" width="1.45" height="1.45"/><rect x="193.53" y="127.53" width="1.45" height="1.45"/><rect x="193.53" y="132.52" width="1.45" height="1.45"/><rect x="193.53" y="137.50" width="1.45" height="1.45"/><rect x="193.53" y="142.47" width="1.45" height="1.45"/><rect x="193.53" y="147.46" width="1.45" height="1.45"/><rect x="193.53" y="152.44" width="1.45" height="1.45"/><rect x="193.53" y="157.42" width="1.45" height="1.45"/><rect x="193.53" y="162.40" width="1.45" height="1.45"/><rect x="193.53" y="167.38" width="1.45" height="1.45"/><rect x="193.53" y="172.36" width="1.45" height="1.45"/><rect x="193.53" y="177.34" width="1.45" height="1.45"/><rect x="193.53" y="182.32" width="1.45" height="1.45"/><rect x="193.53" y="187.30" width="1.45" height="1.45"/><rect x="193.53" y="192.28" width="1.45" height="1.45"/><rect x="193.53" y="197.26" width="1.45" height="1.45"/><rect x="193.53" y="202.24" width="1.45" height="1.45"/><rect x="193.53" y="207.22" width="1.45" height="1.45"/><rect x="193.53" y="212.20" width="1.45" height="1.45"/><rect x="193.53" y="217.18" width="1.45" height="1.45"/><rect x="193.53" y="222.16" width="1.45" height="1.45"/><rect x="193.53" y="227.14" width="1.45" height="1.45"/><rect x="193.53" y="232.12" width="1.45" height="1.45"/><rect x="193.53" y="237.10" width="1.45" height="1.45"/><rect x="193.53" y="242.08" width="1.45" height="1.45"/><rect x="193.53" y="247.06" width="1.45" height="1.45"/><rect x="193.53" y="252.04" width="1.45" height="1.45"/><rect x="193.53" y="257.01" width="1.45" height="1.45"/><rect x="193.53" y="262.00" width="1.45" height="1.45"/><rect x="193.53" y="266.98" width="1.45" height="1.45"/><rect x="193.53" y="271.95" width="1.45" height="1.45"/><rect x="193.53" y="276.94" width="1.45" height="1.45"/><rect x="193.53" y="281.91" width="1.45" height="1.45"/><rect x="193.53" y="286.89" width="1.45" height="1.45"/><rect x="198.51" y="67.78" width="1.39" height="1.45"/><rect x="198.51" y="72.76" width="1.39" height="1.45"/><rect x="198.51" y="77.74" width="1.39" height="1.45"/><rect x="198.51" y="82.72" width="1.39" height="1.45"/><rect x="198.51" y="87.70" width="1.39" height="1.45"/><rect x="198.51" y="92.68" width="1.39" height="1.45"/><rect x="198.51" y="97.66" width="1.39" height="1.45"/><rect x="198.51" y="102.64" width="1.39" height="1.45"/><rect x="198.51" y="107.62" width="1.39" height="1.45"/><rect x="198.51" y="112.60" width="1.39" height="1.45"/><rect x="198.51" y="117.58" width="1.39" height="1.45"/><rect x="198.51" y="122.56" width="1.39" height="1.45"/><rect x="198.51" y="127.53" width="1.39" height="1.45"/><rect x="198.51" y="132.52" width="1.39" height="1.45"/><rect x="198.51" y="137.50" width="1.39" height="1.45"/><rect x="198.51" y="142.47" width="1.39" height="1.45"/><rect x="198.51" y="147.46" width="1.39" height="1.45"/><rect x="198.51" y="152.44" width="1.39" height="1.45"/><rect x="198.51" y="157.42" width="1.39" height="1.45"/><rect x="198.51" y="162.40" width="1.39" height="1.45"/><rect x="198.51" y="167.38" width="1.39" height="1.45"/><rect x="198.51" y="172.36" width="1.39" height="1.45"/><rect x="198.51" y="177.34" width="1.39" height="1.45"/><rect x="198.51" y="182.32" width="1.39" height="1.45"/><rect x="198.51" y="187.30" width="1.39" height="1.45"/><rect x="198.51" y="192.28" width="1.39" height="1.45"/><rect x="198.51" y="197.26" width="1.39" height="1.45"/><rect x="198.51" y="202.24" width="1.39" height="1.45"/><rect x="198.51" y="207.22" width="1.39" height="1.45"/><rect x="198.51" y="212.20" width="1.39" height="1.45"/><rect x="198.51" y="217.18" width="1.39" height="1.45"/><rect x="198.51" y="222.16" width="1.39" height="1.45"/><rect x="198.51" y="227.14" width="1.39" height="1.45"/><rect x="198.51" y="232.12" width="1.39" height="1.45"/><rect x="198.51" y="237.10" width="1.39" height="1.45"/><rect x="198.51" y="242.08" width="1.39" height="1.45"/><rect x="198.51" y="247.06" width="1.39" height="1.45"/><rect x="198.51" y="252.04" width="1.39" height="1.45"/><rect x="198.51" y="257.01" width="1.39" height="1.45"/><rect x="198.51" y="262.00" width="1.39" height="1.45"/><rect x="198.51" y="266.98" width="1.39" height="1.45"/><rect x="198.51" y="271.95" width="1.39" height="1.45"/><rect x="198.51" y="276.94" width="1.39" height="1.45"/><rect x="198.51" y="281.91" width="1.39" height="1.45"/><rect x="198.51" y="286.89" width="1.39" height="1.45"/><rect x="181.06" y="65.45" width="1.45" height="1.26"/><rect x="181.06" y="70.25" width="1.45" height="1.45"/><rect x="181.06" y="75.23" width="1.45" height="1.45"/><rect x="181.06" y="80.21" width="1.45" height="1.45"/><rect x="181.06" y="85.19" width="1.45" height="1.45"/><rect x="181.06" y="90.17" width="1.45" height="1.45"/><rect x="181.06" y="95.15" width="1.45" height="1.45"/><rect x="181.06" y="100.12" width="1.45" height="1.45"/><rect x="181.06" y="105.11" width="1.45" height="1.45"/><rect x="181.06" y="110.09" width="1.45" height="1.45"/><rect x="181.06" y="115.07" width="1.45" height="1.45"/><rect x="181.06" y="120.05" width="1.45" height="1.45"/><rect x="181.06" y="125.03" width="1.45" height="1.45"/><rect x="181.06" y="130.01" width="1.45" height="1.45"/><rect x="181.06" y="134.99" width="1.45" height="1.45"/><rect x="181.06" y="139.97" width="1.45" height="1.45"/><rect x="181.06" y="144.95" width="1.45" height="1.45"/><rect x="181.06" y="149.93" width="1.45" height="1.45"/><rect x="181.06" y="154.91" width="1.45" height="1.45"/><rect x="181.06" y="159.89" width="1.45" height="1.45"/><rect x="181.06" y="164.87" width="1.45" height="1.45"/><rect x="181.06" y="169.84" width="1.45" height="1.45"/><rect x="181.06" y="174.83" width="1.45" height="1.45"/><rect x="181.06" y="179.81" width="1.45" height="1.45"/><rect x="181.06" y="184.78" width="1.45" height="1.45"/><rect x="181.06" y="189.77" width="1.45" height="1.45"/><rect x="181.06" y="194.75" width="1.45" height="1.45"/><rect x="181.06" y="199.73" width="1.45" height="1.45"/><rect x="181.06" y="204.71" width="1.45" height="1.45"/><rect x="181.06" y="209.69" width="1.45" height="1.45"/><rect x="181.06" y="214.67" width="1.45" height="1.45"/><rect x="181.06" y="219.65" width="1.45" height="1.45"/><rect x="181.06" y="224.63" width="1.45" height="1.45"/><rect x="181.06" y="229.61" width="1.45" height="1.45"/><rect x="181.06" y="234.59" width="1.45" height="1.45"/><rect x="181.06" y="239.57" width="1.45" height="1.45"/><rect x="181.06" y="244.55" width="1.45" height="1.45"/><rect x="181.06" y="249.53" width="1.45" height="1.45"/><rect x="181.06" y="254.51" width="1.45" height="1.45"/><rect x="181.06" y="259.49" width="1.45" height="1.45"/><rect x="181.06" y="264.47" width="1.45" height="1.45"/><rect x="181.06" y="269.44" width="1.45" height="1.45"/><rect x="181.06" y="274.42" width="1.45" height="1.45"/><rect x="181.06" y="279.40" width="1.45" height="1.45"/><rect x="181.06" y="284.38" width="1.45" height="1.45"/><rect x="186.05" y="65.45" width="1.45" height="1.26"/><rect x="186.05" y="70.25" width="1.45" height="1.45"/><rect x="186.05" y="75.23" width="1.45" height="1.45"/><rect x="186.05" y="80.21" width="1.45" height="1.45"/><rect x="186.05" y="85.19" width="1.45" height="1.45"/><rect x="186.05" y="90.17" width="1.45" height="1.45"/><rect x="186.05" y="95.15" width="1.45" height="1.45"/><rect x="186.05" y="100.12" width="1.45" height="1.45"/><rect x="186.05" y="105.11" width="1.45" height="1.45"/><rect x="186.05" y="110.09" width="1.45" height="1.45"/><rect x="186.05" y="115.07" width="1.45" height="1.45"/><rect x="186.05" y="120.05" width="1.45" height="1.45"/><rect x="186.05" y="125.03" width="1.45" height="1.45"/><rect x="186.05" y="130.01" width="1.45" height="1.45"/><rect x="186.05" y="134.99" width="1.45" height="1.45"/><rect x="186.05" y="139.97" width="1.45" height="1.45"/><rect x="186.05" y="144.95" width="1.45" height="1.45"/><rect x="186.05" y="149.93" width="1.45" height="1.45"/><rect x="186.05" y="154.91" width="1.45" height="1.45"/><rect x="186.05" y="159.89" width="1.45" height="1.45"/><rect x="186.05" y="164.87" width="1.45" height="1.45"/><rect x="186.05" y="169.84" width="1.45" height="1.45"/><rect x="186.05" y="174.83" width="1.45" height="1.45"/><rect x="186.05" y="179.81" width="1.45" height="1.45"/><rect x="186.05" y="184.78" width="1.45" height="1.45"/><rect x="186.05" y="189.77" width="1.45" height="1.45"/><rect x="186.05" y="194.75" width="1.45" height="1.45"/><rect x="186.05" y="199.73" width="1.45" height="1.45"/><rect x="186.05" y="204.71" width="1.45" height="1.45"/><rect x="186.05" y="209.69" width="1.45" height="1.45"/><rect x="186.05" y="214.67" width="1.45" height="1.45"/><rect x="186.05" y="219.65" width="1.45" height="1.45"/><rect x="186.05" y="224.63" width="1.45" height="1.45"/><rect x="186.05" y="229.61" width="1.45" height="1.45"/><rect x="186.05" y="234.59" width="1.45" height="1.45"/><rect x="186.05" y="239.57" width="1.45" height="1.45"/><rect x="186.05" y="244.55" width="1.45" height="1.45"/><rect x="186.05" y="249.53" width="1.45" height="1.45"/><rect x="186.05" y="254.51" width="1.45" height="1.45"/><rect x="186.05" y="259.49" width="1.45" height="1.45"/><rect x="186.05" y="264.47" width="1.45" height="1.45"/><rect x="186.05" y="269.44" width="1.45" height="1.45"/><rect x="186.05" y="274.42" width="1.45" height="1.45"/><rect x="186.05" y="279.40" width="1.45" height="1.45"/><rect x="186.05" y="284.38" width="1.45" height="1.45"/><rect x="191.03" y="65.45" width="1.45" height="1.26"/><rect x="191.03" y="70.25" width="1.45" height="1.45"/><rect x="191.03" y="75.23" width="1.45" height="1.45"/><rect x="191.03" y="80.21" width="1.45" height="1.45"/><rect x="191.03" y="85.19" width="1.45" height="1.45"/><rect x="191.03" y="90.17" width="1.45" height="1.45"/><rect x="191.03" y="95.15" width="1.45" height="1.45"/><rect x="191.03" y="100.12" width="1.45" height="1.45"/><rect x="191.03" y="105.11" width="1.45" height="1.45"/><rect x="191.03" y="110.09" width="1.45" height="1.45"/><rect x="191.03" y="115.07" width="1.45" height="1.45"/><rect x="191.03" y="120.05" width="1.45" height="1.45"/><rect x="191.03" y="125.03" width="1.45" height="1.45"/><rect x="191.03" y="130.01" width="1.45" height="1.45"/><rect x="191.03" y="134.99" width="1.45" height="1.45"/><rect x="191.03" y="139.97" width="1.45" height="1.45"/><rect x="191.03" y="144.95" width="1.45" height="1.45"/><rect x="191.03" y="149.93" width="1.45" height="1.45"/><rect x="191.03" y="154.91" width="1.45" height="1.45"/><rect x="191.03" y="159.89" width="1.45" height="1.45"/><rect x="191.03" y="164.87" width="1.45" height="1.45"/><rect x="191.03" y="169.84" width="1.45" height="1.45"/><rect x="191.03" y="174.83" width="1.45" height="1.45"/><rect x="191.03" y="179.81" width="1.45" height="1.45"/><rect x="191.03" y="184.78" width="1.45" height="1.45"/><rect x="191.03" y="189.77" width="1.45" height="1.45"/><rect x="191.03" y="194.75" width="1.45" height="1.45"/><rect x="191.03" y="199.73" width="1.45" height="1.45"/><rect x="191.03" y="204.71" width="1.45" height="1.45"/><rect x="191.03" y="209.69" width="1.45" height="1.45"/><rect x="191.03" y="214.67" width="1.45" height="1.45"/><rect x="191.03" y="219.65" width="1.45" height="1.45"/><rect x="191.03" y="224.63" width="1.45" height="1.45"/><rect x="191.03" y="229.61" width="1.45" height="1.45"/><rect x="191.03" y="234.59" width="1.45" height="1.45"/><rect x="191.03" y="239.57" width="1.45" height="1.45"/><rect x="191.03" y="244.55" width="1.45" height="1.45"/><rect x="191.03" y="249.53" width="1.45" height="1.45"/><rect x="191.03" y="254.51" width="1.45" height="1.45"/><rect x="191.03" y="259.49" width="1.45" height="1.45"/><rect x="191.03" y="264.47" width="1.45" height="1.45"/><rect x="191.03" y="269.44" width="1.45" height="1.45"/><rect x="191.03" y="274.42" width="1.45" height="1.45"/><rect x="191.03" y="279.40" width="1.45" height="1.45"/><rect x="191.03" y="284.38" width="1.45" height="1.45"/><rect x="196.01" y="65.45" width="1.45" height="1.26"/><rect x="196.01" y="70.25" width="1.45" height="1.45"/><rect x="196.01" y="75.23" width="1.45" height="1.45"/><rect x="196.01" y="80.21" width="1.45" height="1.45"/><rect x="196.01" y="85.19" width="1.45" height="1.45"/><rect x="196.01" y="90.17" width="1.45" height="1.45"/><rect x="196.01" y="95.15" width="1.45" height="1.45"/><rect x="196.01" y="100.12" width="1.45" height="1.45"/><rect x="196.01" y="105.11" width="1.45" height="1.45"/><rect x="196.01" y="110.09" width="1.45" height="1.45"/><rect x="196.01" y="115.07" width="1.45" height="1.45"/><rect x="196.01" y="120.05" width="1.45" height="1.45"/><rect x="196.01" y="125.03" width="1.45" height="1.45"/><rect x="196.01" y="130.01" width="1.45" height="1.45"/><rect x="196.01" y="134.99" width="1.45" height="1.45"/><rect x="196.01" y="139.97" width="1.45" height="1.45"/><rect x="196.01" y="144.95" width="1.45" height="1.45"/><rect x="196.01" y="149.93" width="1.45" height="1.45"/><rect x="196.01" y="154.91" width="1.45" height="1.45"/><rect x="196.01" y="159.89" width="1.45" height="1.45"/><rect x="196.01" y="164.87" width="1.45" height="1.45"/><rect x="196.01" y="169.84" width="1.45" height="1.45"/><rect x="196.01" y="174.83" width="1.45" height="1.45"/><rect x="196.01" y="179.81" width="1.45" height="1.45"/><rect x="196.01" y="184.78" width="1.45" height="1.45"/><rect x="196.01" y="189.77" width="1.45" height="1.45"/><rect x="196.01" y="194.75" width="1.45" height="1.45"/><rect x="196.01" y="199.73" width="1.45" height="1.45"/><rect x="196.01" y="204.71" width="1.45" height="1.45"/><rect x="196.01" y="209.69" width="1.45" height="1.45"/><rect x="196.01" y="214.67" width="1.45" height="1.45"/><rect x="196.01" y="219.65" width="1.45" height="1.45"/><rect x="196.01" y="224.63" width="1.45" height="1.45"/><rect x="196.01" y="229.61" width="1.45" height="1.45"/><rect x="196.01" y="234.59" width="1.45" height="1.45"/><rect x="196.01" y="239.57" width="1.45" height="1.45"/><rect x="196.01" y="244.55" width="1.45" height="1.45"/><rect x="196.01" y="249.53" width="1.45" height="1.45"/><rect x="196.01" y="254.51" width="1.45" height="1.45"/><rect x="196.01" y="259.49" width="1.45" height="1.45"/><rect x="196.01" y="264.47" width="1.45" height="1.45"/><rect x="196.01" y="269.44" width="1.45" height="1.45"/><rect x="196.01" y="274.42" width="1.45" height="1.45"/><rect x="196.01" y="279.40" width="1.45" height="1.45"/><rect x="196.01" y="284.38" width="1.45" height="1.45"/></g>
<rect x="178.20" y="65.85" width="21.30" height="222.50" fill="none" stroke="#575757" stroke-width="0.8"/>
<rect x="244.3" y="49.9" width="21.90" height="15.55" fill="#000"/>
<rect x="270.9" y="65.45" width="21.80" height="30.25" fill="#696969"/>
<rect x="271.30" y="65.85" width="21.00" height="29.45" fill="none" stroke="#585858" stroke-width="0.8"/>
<rect x="297.1" y="65.45" width="22.10" height="163.45" fill="#000"/>
<g fill="#fff"><rect x="298.15" y="67.78" width="1.45" height="1.45"/><rect x="298.15" y="72.76" width="1.45" height="1.45"/><rect x="298.15" y="77.74" width="1.45" height="1.45"/><rect x="298.15" y="82.72" width="1.45" height="1.45"/><rect x="298.15" y="87.70" width="1.45" height="1.45"/><rect x="298.15" y="92.68" width="1.45" height="1.45"/><rect x="298.15" y="97.66" width="1.45" height="1.45"/><rect x="298.15" y="102.64" width="1.45" height="1.45"/><rect x="298.15" y="107.62" width="1.45" height="1.45"/><rect x="298.15" y="112.60" width="1.45" height="1.45"/><rect x="298.15" y="117.58" width="1.45" height="1.45"/><rect x="298.15" y="122.56" width="1.45" height="1.45"/><rect x="298.15" y="127.53" width="1.45" height="1.45"/><rect x="298.15" y="132.52" width="1.45" height="1.45"/><rect x="298.15" y="137.50" width="1.45" height="1.45"/><rect x="298.15" y="142.47" width="1.45" height="1.45"/><rect x="298.15" y="147.46" width="1.45" height="1.45"/><rect x="298.15" y="152.44" width="1.45" height="1.45"/><rect x="298.15" y="157.42" width="1.45" height="1.45"/><rect x="298.15" y="162.40" width="1.45" height="1.45"/><rect x="298.15" y="167.38" width="1.45" height="1.45"/><rect x="298.15" y="172.36" width="1.45" height="1.45"/><rect x="298.15" y="177.34" width="1.45" height="1.45"/><rect x="298.15" y="182.32" width="1.45" height="1.45"/><rect x="298.15" y="187.30" width="1.45" height="1.45"/><rect x="298.15" y="192.28" width="1.45" height="1.45"/><rect x="298.15" y="197.26" width="1.45" height="1.45"/><rect x="298.15" y="202.24" width="1.45" height="1.45"/><rect x="298.15" y="207.22" width="1.45" height="1.45"/><rect x="298.15" y="212.20" width="1.45" height="1.45"/><rect x="298.15" y="217.18" width="1.45" height="1.45"/><rect x="298.15" y="222.16" width="1.45" height="1.45"/><rect x="298.15" y="227.14" width="1.45" height="1.45"/><rect x="303.13" y="67.78" width="1.45" height="1.45"/><rect x="303.13" y="72.76" width="1.45" height="1.45"/><rect x="303.13" y="77.74" width="1.45" height="1.45"/><rect x="303.13" y="82.72" width="1.45" height="1.45"/><rect x="303.13" y="87.70" width="1.45" height="1.45"/><rect x="303.13" y="92.68" width="1.45" height="1.45"/><rect x="303.13" y="97.66" width="1.45" height="1.45"/><rect x="303.13" y="102.64" width="1.45" height="1.45"/><rect x="303.13" y="107.62" width="1.45" height="1.45"/><rect x="303.13" y="112.60" width="1.45" height="1.45"/><rect x="303.13" y="117.58" width="1.45" height="1.45"/><rect x="303.13" y="122.56" width="1.45" height="1.45"/><rect x="303.13" y="127.53" width="1.45" height="1.45"/><rect x="303.13" y="132.52" width="1.45" height="1.45"/><rect x="303.13" y="137.50" width="1.45" height="1.45"/><rect x="303.13" y="142.47" width="1.45" height="1.45"/><rect x="303.13" y="147.46" width="1.45" height="1.45"/><rect x="303.13" y="152.44" width="1.45" height="1.45"/><rect x="303.13" y="157.42" width="1.45" height="1.45"/><rect x="303.13" y="162.40" width="1.45" height="1.45"/><rect x="303.13" y="167.38" width="1.45" height="1.45"/><rect x="303.13" y="172.36" width="1.45" height="1.45"/><rect x="303.13" y="177.34" width="1.45" height="1.45"/><rect x="303.13" y="182.32" width="1.45" height="1.45"/><rect x="303.13" y="187.30" width="1.45" height="1.45"/><rect x="303.13" y="192.28" width="1.45" height="1.45"/><rect x="303.13" y="197.26" width="1.45" height="1.45"/><rect x="303.13" y="202.24" width="1.45" height="1.45"/><rect x="303.13" y="207.22" width="1.45" height="1.45"/><rect x="303.13" y="212.20" width="1.45" height="1.45"/><rect x="303.13" y="217.18" width="1.45" height="1.45"/><rect x="303.13" y="222.16" width="1.45" height="1.45"/><rect x="303.13" y="227.14" width="1.45" height="1.45"/><rect x="308.12" y="67.78" width="1.45" height="1.45"/><rect x="308.12" y="72.76" width="1.45" height="1.45"/><rect x="308.12" y="77.74" width="1.45" height="1.45"/><rect x="308.12" y="82.72" width="1.45" height="1.45"/><rect x="308.12" y="87.70" width="1.45" height="1.45"/><rect x="308.12" y="92.68" width="1.45" height="1.45"/><rect x="308.12" y="97.66" width="1.45" height="1.45"/><rect x="308.12" y="102.64" width="1.45" height="1.45"/><rect x="308.12" y="107.62" width="1.45" height="1.45"/><rect x="308.12" y="112.60" width="1.45" height="1.45"/><rect x="308.12" y="117.58" width="1.45" height="1.45"/><rect x="308.12" y="122.56" width="1.45" height="1.45"/><rect x="308.12" y="127.53" width="1.45" height="1.45"/><rect x="308.12" y="132.52" width="1.45" height="1.45"/><rect x="308.12" y="137.50" width="1.45" height="1.45"/><rect x="308.12" y="142.47" width="1.45" height="1.45"/><rect x="308.12" y="147.46" width="1.45" height="1.45"/><rect x="308.12" y="152.44" width="1.45" height="1.45"/><rect x="308.12" y="157.42" width="1.45" height="1.45"/><rect x="308.12" y="162.40" width="1.45" height="1.45"/><rect x="308.12" y="167.38" width="1.45" height="1.45"/><rect x="308.12" y="172.36" width="1.45" height="1.45"/><rect x="308.12" y="177.34" width="1.45" height="1.45"/><rect x="308.12" y="182.32" width="1.45" height="1.45"/><rect x="308.12" y="187.30" width="1.45" height="1.45"/><rect x="308.12" y="192.28" width="1.45" height="1.45"/><rect x="308.12" y="197.26" width="1.45" height="1.45"/><rect x="308.12" y="202.24" width="1.45" height="1.45"/><rect x="308.12" y="207.22" width="1.45" height="1.45"/><rect x="308.12" y="212.20" width="1.45" height="1.45"/><rect x="308.12" y="217.18" width="1.45" height="1.45"/><rect x="308.12" y="222.16" width="1.45" height="1.45"/><rect x="308.12" y="227.14" width="1.45" height="1.45"/><rect x="313.10" y="67.78" width="1.45" height="1.45"/><rect x="313.10" y="72.76" width="1.45" height="1.45"/><rect x="313.10" y="77.74" width="1.45" height="1.45"/><rect x="313.10" y="82.72" width="1.45" height="1.45"/><rect x="313.10" y="87.70" width="1.45" height="1.45"/><rect x="313.10" y="92.68" width="1.45" height="1.45"/><rect x="313.10" y="97.66" width="1.45" height="1.45"/><rect x="313.10" y="102.64" width="1.45" height="1.45"/><rect x="313.10" y="107.62" width="1.45" height="1.45"/><rect x="313.10" y="112.60" width="1.45" height="1.45"/><rect x="313.10" y="117.58" width="1.45" height="1.45"/><rect x="313.10" y="122.56" width="1.45" height="1.45"/><rect x="313.10" y="127.53" width="1.45" height="1.45"/><rect x="313.10" y="132.52" width="1.45" height="1.45"/><rect x="313.10" y="137.50" width="1.45" height="1.45"/><rect x="313.10" y="142.47" width="1.45" height="1.45"/><rect x="313.10" y="147.46" width="1.45" height="1.45"/><rect x="313.10" y="152.44" width="1.45" height="1.45"/><rect x="313.10" y="157.42" width="1.45" height="1.45"/><rect x="313.10" y="162.40" width="1.45" height="1.45"/><rect x="313.10" y="167.38" width="1.45" height="1.45"/><rect x="313.10" y="172.36" width="1.45" height="1.45"/><rect x="313.10" y="177.34" width="1.45" height="1.45"/><rect x="313.10" y="182.32" width="1.45" height="1.45"/><rect x="313.10" y="187.30" width="1.45" height="1.45"/><rect x="313.10" y="192.28" width="1.45" height="1.45"/><rect x="313.10" y="197.26" width="1.45" height="1.45"/><rect x="313.10" y="202.24" width="1.45" height="1.45"/><rect x="313.10" y="207.22" width="1.45" height="1.45"/><rect x="313.10" y="212.20" width="1.45" height="1.45"/><rect x="313.10" y="217.18" width="1.45" height="1.45"/><rect x="313.10" y="222.16" width="1.45" height="1.45"/><rect x="313.10" y="227.14" width="1.45" height="1.45"/><rect x="318.08" y="67.78" width="1.12" height="1.45"/><rect x="318.08" y="72.76" width="1.12" height="1.45"/><rect x="318.08" y="77.74" width="1.12" height="1.45"/><rect x="318.08" y="82.72" width="1.12" height="1.45"/><rect x="318.08" y="87.70" width="1.12" height="1.45"/><rect x="318.08" y="92.68" width="1.12" height="1.45"/><rect x="318.08" y="97.66" width="1.12" height="1.45"/><rect x="318.08" y="102.64" width="1.12" height="1.45"/><rect x="318.08" y="107.62" width="1.12" height="1.45"/><rect x="318.08" y="112.60" width="1.12" height="1.45"/><rect x="318.08" y="117.58" width="1.12" height="1.45"/><rect x="318.08" y="122.56" width="1.12" height="1.45"/><rect x="318.08" y="127.53" width="1.12" height="1.45"/><rect x="318.08" y="132.52" width="1.12" height="1.45"/><rect x="318.08" y="137.50" width="1.12" height="1.45"/><rect x="318.08" y="142.47" width="1.12" height="1.45"/><rect x="318.08" y="147.46" width="1.12" height="1.45"/><rect x="318.08" y="152.44" width="1.12" height="1.45"/><rect x="318.08" y="157.42" width="1.12" height="1.45"/><rect x="318.08" y="162.40" width="1.12" height="1.45"/><rect x="318.08" y="167.38" width="1.12" height="1.45"/><rect x="318.08" y="172.36" width="1.12" height="1.45"/><rect x="318.08" y="177.34" width="1.12" height="1.45"/><rect x="318.08" y="182.32" width="1.12" height="1.45"/><rect x="318.08" y="187.30" width="1.12" height="1.45"/><rect x="318.08" y="192.28" width="1.12" height="1.45"/><rect x="318.08" y="197.26" width="1.12" height="1.45"/><rect x="318.08" y="202.24" width="1.12" height="1.45"/><rect x="318.08" y="207.22" width="1.12" height="1.45"/><rect x="318.08" y="212.20" width="1.12" height="1.45"/><rect x="318.08" y="217.18" width="1.12" height="1.45"/><rect x="318.08" y="222.16" width="1.12" height="1.45"/><rect x="318.08" y="227.14" width="1.12" height="1.45"/><rect x="300.63" y="65.45" width="1.45" height="1.26"/><rect x="300.63" y="70.25" width="1.45" height="1.45"/><rect x="300.63" y="75.23" width="1.45" height="1.45"/><rect x="300.63" y="80.21" width="1.45" height="1.45"/><rect x="300.63" y="85.19" width="1.45" height="1.45"/><rect x="300.63" y="90.17" width="1.45" height="1.45"/><rect x="300.63" y="95.15" width="1.45" height="1.45"/><rect x="300.63" y="100.12" width="1.45" height="1.45"/><rect x="300.63" y="105.11" width="1.45" height="1.45"/><rect x="300.63" y="110.09" width="1.45" height="1.45"/><rect x="300.63" y="115.07" width="1.45" height="1.45"/><rect x="300.63" y="120.05" width="1.45" height="1.45"/><rect x="300.63" y="125.03" width="1.45" height="1.45"/><rect x="300.63" y="130.01" width="1.45" height="1.45"/><rect x="300.63" y="134.99" width="1.45" height="1.45"/><rect x="300.63" y="139.97" width="1.45" height="1.45"/><rect x="300.63" y="144.95" width="1.45" height="1.45"/><rect x="300.63" y="149.93" width="1.45" height="1.45"/><rect x="300.63" y="154.91" width="1.45" height="1.45"/><rect x="300.63" y="159.89" width="1.45" height="1.45"/><rect x="300.63" y="164.87" width="1.45" height="1.45"/><rect x="300.63" y="169.84" width="1.45" height="1.45"/><rect x="300.63" y="174.83" width="1.45" height="1.45"/><rect x="300.63" y="179.81" width="1.45" height="1.45"/><rect x="300.63" y="184.78" width="1.45" height="1.45"/><rect x="300.63" y="189.77" width="1.45" height="1.45"/><rect x="300.63" y="194.75" width="1.45" height="1.45"/><rect x="300.63" y="199.73" width="1.45" height="1.45"/><rect x="300.63" y="204.71" width="1.45" height="1.45"/><rect x="300.63" y="209.69" width="1.45" height="1.45"/><rect x="300.63" y="214.67" width="1.45" height="1.45"/><rect x="300.63" y="219.65" width="1.45" height="1.45"/><rect x="300.63" y="224.63" width="1.45" height="1.45"/><rect x="305.62" y="65.45" width="1.45" height="1.26"/><rect x="305.62" y="70.25" width="1.45" height="1.45"/><rect x="305.62" y="75.23" width="1.45" height="1.45"/><rect x="305.62" y="80.21" width="1.45" height="1.45"/><rect x="305.62" y="85.19" width="1.45" height="1.45"/><rect x="305.62" y="90.17" width="1.45" height="1.45"/><rect x="305.62" y="95.15" width="1.45" height="1.45"/><rect x="305.62" y="100.12" width="1.45" height="1.45"/><rect x="305.62" y="105.11" width="1.45" height="1.45"/><rect x="305.62" y="110.09" width="1.45" height="1.45"/><rect x="305.62" y="115.07" width="1.45" height="1.45"/><rect x="305.62" y="120.05" width="1.45" height="1.45"/><rect x="305.62" y="125.03" width="1.45" height="1.45"/><rect x="305.62" y="130.01" width="1.45" height="1.45"/><rect x="305.62" y="134.99" width="1.45" height="1.45"/><rect x="305.62" y="139.97" width="1.45" height="1.45"/><rect x="305.62" y="144.95" width="1.45" height="1.45"/><rect x="305.62" y="149.93" width="1.45" height="1.45"/><rect x="305.62" y="154.91" width="1.45" height="1.45"/><rect x="305.62" y="159.89" width="1.45" height="1.45"/><rect x="305.62" y="164.87" width="1.45" height="1.45"/><rect x="305.62" y="169.84" width="1.45" height="1.45"/><rect x="305.62" y="174.83" width="1.45" height="1.45"/><rect x="305.62" y="179.81" width="1.45" height="1.45"/><rect x="305.62" y="184.78" width="1.45" height="1.45"/><rect x="305.62" y="189.77" width="1.45" height="1.45"/><rect x="305.62" y="194.75" width="1.45" height="1.45"/><rect x="305.62" y="199.73" width="1.45" height="1.45"/><rect x="305.62" y="204.71" width="1.45" height="1.45"/><rect x="305.62" y="209.69" width="1.45" height="1.45"/><rect x="305.62" y="214.67" width="1.45" height="1.45"/><rect x="305.62" y="219.65" width="1.45" height="1.45"/><rect x="305.62" y="224.63" width="1.45" height="1.45"/><rect x="310.60" y="65.45" width="1.45" height="1.26"/><rect x="310.60" y="70.25" width="1.45" height="1.45"/><rect x="310.60" y="75.23" width="1.45" height="1.45"/><rect x="310.60" y="80.21" width="1.45" height="1.45"/><rect x="310.60" y="85.19" width="1.45" height="1.45"/><rect x="310.60" y="90.17" width="1.45" height="1.45"/><rect x="310.60" y="95.15" width="1.45" height="1.45"/><rect x="310.60" y="100.12" width="1.45" height="1.45"/><rect x="310.60" y="105.11" width="1.45" height="1.45"/><rect x="310.60" y="110.09" width="1.45" height="1.45"/><rect x="310.60" y="115.07" width="1.45" height="1.45"/><rect x="310.60" y="120.05" width="1.45" height="1.45"/><rect x="310.60" y="125.03" width="1.45" height="1.45"/><rect x="310.60" y="130.01" width="1.45" height="1.45"/><rect x="310.60" y="134.99" width="1.45" height="1.45"/><rect x="310.60" y="139.97" width="1.45" height="1.45"/><rect x="310.60" y="144.95" width="1.45" height="1.45"/><rect x="310.60" y="149.93" width="1.45" height="1.45"/><rect x="310.60" y="154.91" width="1.45" height="1.45"/><rect x="310.60" y="159.89" width="1.45" height="1.45"/><rect x="310.60" y="164.87" width="1.45" height="1.45"/><rect x="310.60" y="169.84" width="1.45" height="1.45"/><rect x="310.60" y="174.83" width="1.45" height="1.45"/><rect x="310.60" y="179.81" width="1.45" height="1.45"/><rect x="310.60" y="184.78" width="1.45" height="1.45"/><rect x="310.60" y="189.77" width="1.45" height="1.45"/><rect x="310.60" y="194.75" width="1.45" height="1.45"/><rect x="310.60" y="199.73" width="1.45" height="1.45"/><rect x="310.60" y="204.71" width="1.45" height="1.45"/><rect x="310.60" y="209.69" width="1.45" height="1.45"/><rect x="310.60" y="214.67" width="1.45" height="1.45"/><rect x="310.60" y="219.65" width="1.45" height="1.45"/><rect x="310.60" y="224.63" width="1.45" height="1.45"/><rect x="315.58" y="65.45" width="1.45" height="1.26"/><rect x="315.58" y="70.25" width="1.45" height="1.45"/><rect x="315.58" y="75.23" width="1.45" height="1.45"/><rect x="315.58" y="80.21" width="1.45" height="1.45"/><rect x="315.58" y="85.19" width="1.45" height="1.45"/><rect x="315.58" y="90.17" width="1.45" height="1.45"/><rect x="315.58" y="95.15" width="1.45" height="1.45"/><rect x="315.58" y="100.12" width="1.45" height="1.45"/><rect x="315.58" y="105.11" width="1.45" height="1.45"/><rect x="315.58" y="110.09" width="1.45" height="1.45"/><rect x="315.58" y="115.07" width="1.45" height="1.45"/><rect x="315.58" y="120.05" width="1.45" height="1.45"/><rect x="315.58" y="125.03" width="1.45" height="1.45"/><rect x="315.58" y="130.01" width="1.45" height="1.45"/><rect x="315.58" y="134.99" width="1.45" height="1.45"/><rect x="315.58" y="139.97" width="1.45" height="1.45"/><rect x="315.58" y="144.95" width="1.45" height="1.45"/><rect x="315.58" y="149.93" width="1.45" height="1.45"/><rect x="315.58" y="154.91" width="1.45" height="1.45"/><rect x="315.58" y="159.89" width="1.45" height="1.45"/><rect x="315.58" y="164.87" width="1.45" height="1.45"/><rect x="315.58" y="169.84" width="1.45" height="1.45"/><rect x="315.58" y="174.83" width="1.45" height="1.45"/><rect x="315.58" y="179.81" width="1.45" height="1.45"/><rect x="315.58" y="184.78" width="1.45" height="1.45"/><rect x="315.58" y="189.77" width="1.45" height="1.45"/><rect x="315.58" y="194.75" width="1.45" height="1.45"/><rect x="315.58" y="199.73" width="1.45" height="1.45"/><rect x="315.58" y="204.71" width="1.45" height="1.45"/><rect x="315.58" y="209.69" width="1.45" height="1.45"/><rect x="315.58" y="214.67" width="1.45" height="1.45"/><rect x="315.58" y="219.65" width="1.45" height="1.45"/><rect x="315.58" y="224.63" width="1.45" height="1.45"/></g>
<rect x="297.60" y="65.95" width="21.10" height="162.45" fill="none" stroke="#000" stroke-width="1.0"/>
<rect x="323.9" y="65.45" width="22.20" height="114.25" fill="#686868"/>
<g fill="#fff"><rect x="323.90" y="67.78" width="0.61" height="1.45"/><rect x="323.90" y="72.76" width="0.61" height="1.45"/><rect x="323.90" y="77.74" width="0.61" height="1.45"/><rect x="323.90" y="82.72" width="0.61" height="1.45"/><rect x="323.90" y="87.70" width="0.61" height="1.45"/><rect x="323.90" y="92.68" width="0.61" height="1.45"/><rect x="323.90" y="97.66" width="0.61" height="1.45"/><rect x="323.90" y="102.64" width="0.61" height="1.45"/><rect x="323.90" y="107.62" width="0.61" height="1.45"/><rect x="323.90" y="112.60" width="0.61" height="1.45"/><rect x="323.90" y="117.58" width="0.61" height="1.45"/><rect x="323.90" y="122.56" width="0.61" height="1.45"/><rect x="323.90" y="127.53" width="0.61" height="1.45"/><rect x="323.90" y="132.52" width="0.61" height="1.45"/><rect x="323.90" y="137.50" width="0.61" height="1.45"/><rect x="323.90" y="142.47" width="0.61" height="1.45"/><rect x="323.90" y="147.46" width="0.61" height="1.45"/><rect x="323.90" y="152.44" width="0.61" height="1.45"/><rect x="323.90" y="157.42" width="0.61" height="1.45"/><rect x="323.90" y="162.40" width="0.61" height="1.45"/><rect x="323.90" y="167.38" width="0.61" height="1.45"/><rect x="323.90" y="172.36" width="0.61" height="1.45"/><rect x="323.90" y="177.34" width="0.61" height="1.45"/><rect x="328.04" y="67.78" width="1.45" height="1.45"/><rect x="328.04" y="72.76" width="1.45" height="1.45"/><rect x="328.04" y="77.74" width="1.45" height="1.45"/><rect x="328.04" y="82.72" width="1.45" height="1.45"/><rect x="328.04" y="87.70" width="1.45" height="1.45"/><rect x="328.04" y="92.68" width="1.45" height="1.45"/><rect x="328.04" y="97.66" width="1.45" height="1.45"/><rect x="328.04" y="102.64" width="1.45" height="1.45"/><rect x="328.04" y="107.62" width="1.45" height="1.45"/><rect x="328.04" y="112.60" width="1.45" height="1.45"/><rect x="328.04" y="117.58" width="1.45" height="1.45"/><rect x="328.04" y="122.56" width="1.45" height="1.45"/><rect x="328.04" y="127.53" width="1.45" height="1.45"/><rect x="328.04" y="132.52" width="1.45" height="1.45"/><rect x="328.04" y="137.50" width="1.45" height="1.45"/><rect x="328.04" y="142.47" width="1.45" height="1.45"/><rect x="328.04" y="147.46" width="1.45" height="1.45"/><rect x="328.04" y="152.44" width="1.45" height="1.45"/><rect x="328.04" y="157.42" width="1.45" height="1.45"/><rect x="328.04" y="162.40" width="1.45" height="1.45"/><rect x="328.04" y="167.38" width="1.45" height="1.45"/><rect x="328.04" y="172.36" width="1.45" height="1.45"/><rect x="328.04" y="177.34" width="1.45" height="1.45"/><rect x="333.03" y="67.78" width="1.45" height="1.45"/><rect x="333.03" y="72.76" width="1.45" height="1.45"/><rect x="333.03" y="77.74" width="1.45" height="1.45"/><rect x="333.03" y="82.72" width="1.45" height="1.45"/><rect x="333.03" y="87.70" width="1.45" height="1.45"/><rect x="333.03" y="92.68" width="1.45" height="1.45"/><rect x="333.03" y="97.66" width="1.45" height="1.45"/><rect x="333.03" y="102.64" width="1.45" height="1.45"/><rect x="333.03" y="107.62" width="1.45" height="1.45"/><rect x="333.03" y="112.60" width="1.45" height="1.45"/><rect x="333.03" y="117.58" width="1.45" height="1.45"/><rect x="333.03" y="122.56" width="1.45" height="1.45"/><rect x="333.03" y="127.53" width="1.45" height="1.45"/><rect x="333.03" y="132.52" width="1.45" height="1.45"/><rect x="333.03" y="137.50" width="1.45" height="1.45"/><rect x="333.03" y="142.47" width="1.45" height="1.45"/><rect x="333.03" y="147.46" width="1.45" height="1.45"/><rect x="333.03" y="152.44" width="1.45" height="1.45"/><rect x="333.03" y="157.42" width="1.45" height="1.45"/><rect x="333.03" y="162.40" width="1.45" height="1.45"/><rect x="333.03" y="167.38" width="1.45" height="1.45"/><rect x="333.03" y="172.36" width="1.45" height="1.45"/><rect x="333.03" y="177.34" width="1.45" height="1.45"/><rect x="338.01" y="67.78" width="1.45" height="1.45"/><rect x="338.01" y="72.76" width="1.45" height="1.45"/><rect x="338.01" y="77.74" width="1.45" height="1.45"/><rect x="338.01" y="82.72" width="1.45" height="1.45"/><rect x="338.01" y="87.70" width="1.45" height="1.45"/><rect x="338.01" y="92.68" width="1.45" height="1.45"/><rect x="338.01" y="97.66" width="1.45" height="1.45"/><rect x="338.01" y="102.64" width="1.45" height="1.45"/><rect x="338.01" y="107.62" width="1.45" height="1.45"/><rect x="338.01" y="112.60" width="1.45" height="1.45"/><rect x="338.01" y="117.58" width="1.45" height="1.45"/><rect x="338.01" y="122.56" width="1.45" height="1.45"/><rect x="338.01" y="127.53" width="1.45" height="1.45"/><rect x="338.01" y="132.52" width="1.45" height="1.45"/><rect x="338.01" y="137.50" width="1.45" height="1.45"/><rect x="338.01" y="142.47" width="1.45" height="1.45"/><rect x="338.01" y="147.46" width="1.45" height="1.45"/><rect x="338.01" y="152.44" width="1.45" height="1.45"/><rect x="338.01" y="157.42" width="1.45" height="1.45"/><rect x="338.01" y="162.40" width="1.45" height="1.45"/><rect x="338.01" y="167.38" width="1.45" height="1.45"/><rect x="338.01" y="172.36" width="1.45" height="1.45"/><rect x="338.01" y="177.34" width="1.45" height="1.45"/><rect x="342.99" y="67.78" width="1.45" height="1.45"/><rect x="342.99" y="72.76" width="1.45" height="1.45"/><rect x="342.99" y="77.74" width="1.45" height="1.45"/><rect x="342.99" y="82.72" width="1.45" height="1.45"/><rect x="342.99" y="87.70" width="1.45" height="1.45"/><rect x="342.99" y="92.68" width="1.45" height="1.45"/><rect x="342.99" y="97.66" width="1.45" height="1.45"/><rect x="342.99" y="102.64" width="1.45" height="1.45"/><rect x="342.99" y="107.62" width="1.45" height="1.45"/><rect x="342.99" y="112.60" width="1.45" height="1.45"/><rect x="342.99" y="117.58" width="1.45" height="1.45"/><rect x="342.99" y="122.56" width="1.45" height="1.45"/><rect x="342.99" y="127.53" width="1.45" height="1.45"/><rect x="342.99" y="132.52" width="1.45" height="1.45"/><rect x="342.99" y="137.50" width="1.45" height="1.45"/><rect x="342.99" y="142.47" width="1.45" height="1.45"/><rect x="342.99" y="147.46" width="1.45" height="1.45"/><rect x="342.99" y="152.44" width="1.45" height="1.45"/><rect x="342.99" y="157.42" width="1.45" height="1.45"/><rect x="342.99" y="162.40" width="1.45" height="1.45"/><rect x="342.99" y="167.38" width="1.45" height="1.45"/><rect x="342.99" y="172.36" width="1.45" height="1.45"/><rect x="342.99" y="177.34" width="1.45" height="1.45"/><rect x="325.54" y="65.45" width="1.45" height="1.26"/><rect x="325.54" y="70.25" width="1.45" height="1.45"/><rect x="325.54" y="75.23" width="1.45" height="1.45"/><rect x="325.54" y="80.21" width="1.45" height="1.45"/><rect x="325.54" y="85.19" width="1.45" height="1.45"/><rect x="325.54" y="90.17" width="1.45" height="1.45"/><rect x="325.54" y="95.15" width="1.45" height="1.45"/><rect x="325.54" y="100.12" width="1.45" height="1.45"/><rect x="325.54" y="105.11" width="1.45" height="1.45"/><rect x="325.54" y="110.09" width="1.45" height="1.45"/><rect x="325.54" y="115.07" width="1.45" height="1.45"/><rect x="325.54" y="120.05" width="1.45" height="1.45"/><rect x="325.54" y="125.03" width="1.45" height="1.45"/><rect x="325.54" y="130.01" width="1.45" height="1.45"/><rect x="325.54" y="134.99" width="1.45" height="1.45"/><rect x="325.54" y="139.97" width="1.45" height="1.45"/><rect x="325.54" y="144.95" width="1.45" height="1.45"/><rect x="325.54" y="149.93" width="1.45" height="1.45"/><rect x="325.54" y="154.91" width="1.45" height="1.45"/><rect x="325.54" y="159.89" width="1.45" height="1.45"/><rect x="325.54" y="164.87" width="1.45" height="1.45"/><rect x="325.54" y="169.84" width="1.45" height="1.45"/><rect x="325.54" y="174.83" width="1.45" height="1.45"/><rect x="330.52" y="65.45" width="1.45" height="1.26"/><rect x="330.52" y="70.25" width="1.45" height="1.45"/><rect x="330.52" y="75.23" width="1.45" height="1.45"/><rect x="330.52" y="80.21" width="1.45" height="1.45"/><rect x="330.52" y="85.19" width="1.45" height="1.45"/><rect x="330.52" y="90.17" width="1.45" height="1.45"/><rect x="330.52" y="95.15" width="1.45" height="1.45"/><rect x="330.52" y="100.12" width="1.45" height="1.45"/><rect x="330.52" y="105.11" width="1.45" height="1.45"/><rect x="330.52" y="110.09" width="1.45" height="1.45"/><rect x="330.52" y="115.07" width="1.45" height="1.45"/><rect x="330.52" y="120.05" width="1.45" height="1.45"/><rect x="330.52" y="125.03" width="1.45" height="1.45"/><rect x="330.52" y="130.01" width="1.45" height="1.45"/><rect x="330.52" y="134.99" width="1.45" height="1.45"/><rect x="330.52" y="139.97" width="1.45" height="1.45"/><rect x="330.52" y="144.95" width="1.45" height="1.45"/><rect x="330.52" y="149.93" width="1.45" height="1.45"/><rect x="330.52" y="154.91" width="1.45" height="1.45"/><rect x="330.52" y="159.89" width="1.45" height="1.45"/><rect x="330.52" y="164.87" width="1.45" height="1.45"/><rect x="330.52" y="169.84" width="1.45" height="1.45"/><rect x="330.52" y="174.83" width="1.45" height="1.45"/><rect x="335.51" y="65.45" width="1.45" height="1.26"/><rect x="335.51" y="70.25" width="1.45" height="1.45"/><rect x="335.51" y="75.23" width="1.45" height="1.45"/><rect x="335.51" y="80.21" width="1.45" height="1.45"/><rect x="335.51" y="85.19" width="1.45" height="1.45"/><rect x="335.51" y="90.17" width="1.45" height="1.45"/><rect x="335.51" y="95.15" width="1.45" height="1.45"/><rect x="335.51" y="100.12" width="1.45" height="1.45"/><rect x="335.51" y="105.11" width="1.45" height="1.45"/><rect x="335.51" y="110.09" width="1.45" height="1.45"/><rect x="335.51" y="115.07" width="1.45" height="1.45"/><rect x="335.51" y="120.05" width="1.45" height="1.45"/><rect x="335.51" y="125.03" width="1.45" height="1.45"/><rect x="335.51" y="130.01" width="1.45" height="1.45"/><rect x="335.51" y="134.99" width="1.45" height="1.45"/><rect x="335.51" y="139.97" width="1.45" height="1.45"/><rect x="335.51" y="144.95" width="1.45" height="1.45"/><rect x="335.51" y="149.93" width="1.45" height="1.45"/><rect x="335.51" y="154.91" width="1.45" height="1.45"/><rect x="335.51" y="159.89" width="1.45" height="1.45"/><rect x="335.51" y="164.87" width="1.45" height="1.45"/><rect x="335.51" y="169.84" width="1.45" height="1.45"/><rect x="335.51" y="174.83" width="1.45" height="1.45"/><rect x="340.49" y="65.45" width="1.45" height="1.26"/><rect x="340.49" y="70.25" width="1.45" height="1.45"/><rect x="340.49" y="75.23" width="1.45" height="1.45"/><rect x="340.49" y="80.21" width="1.45" height="1.45"/><rect x="340.49" y="85.19" width="1.45" height="1.45"/><rect x="340.49" y="90.17" width="1.45" height="1.45"/><rect x="340.49" y="95.15" width="1.45" height="1.45"/><rect x="340.49" y="100.12" width="1.45" height="1.45"/><rect x="340.49" y="105.11" width="1.45" height="1.45"/><rect x="340.49" y="110.09" width="1.45" height="1.45"/><rect x="340.49" y="115.07" width="1.45" height="1.45"/><rect x="340.49" y="120.05" width="1.45" height="1.45"/><rect x="340.49" y="125.03" width="1.45" height="1.45"/><rect x="340.49" y="130.01" width="1.45" height="1.45"/><rect x="340.49" y="134.99" width="1.45" height="1.45"/><rect x="340.49" y="139.97" width="1.45" height="1.45"/><rect x="340.49" y="144.95" width="1.45" height="1.45"/><rect x="340.49" y="149.93" width="1.45" height="1.45"/><rect x="340.49" y="154.91" width="1.45" height="1.45"/><rect x="340.49" y="159.89" width="1.45" height="1.45"/><rect x="340.49" y="164.87" width="1.45" height="1.45"/><rect x="340.49" y="169.84" width="1.45" height="1.45"/><rect x="340.49" y="174.83" width="1.45" height="1.45"/><rect x="345.47" y="65.45" width="0.63" height="1.26"/><rect x="345.47" y="70.25" width="0.63" height="1.45"/><rect x="345.47" y="75.23" width="0.63" height="1.45"/><rect x="345.47" y="80.21" width="0.63" height="1.45"/><rect x="345.47" y="85.19" width="0.63" height="1.45"/><rect x="345.47" y="90.17" width="0.63" height="1.45"/><rect x="345.47" y="95.15" width="0.63" height="1.45"/><rect x="345.47" y="100.12" width="0.63" height="1.45"/><rect x="345.47" y="105.11" width="0.63" height="1.45"/><rect x="345.47" y="110.09" width="0.63" height="1.45"/><rect x="345.47" y="115.07" width="0.63" height="1.45"/><rect x="345.47" y="120.05" width="0.63" height="1.45"/><rect x="345.47" y="125.03" width="0.63" height="1.45"/><rect x="345.47" y="130.01" width="0.63" height="1.45"/><rect x="345.47" y="134.99" width="0.63" height="1.45"/><rect x="345.47" y="139.97" width="0.63" height="1.45"/><rect x="345.47" y="144.95" width="0.63" height="1.45"/><rect x="345.47" y="149.93" width="0.63" height="1.45"/><rect x="345.47" y="154.91" width="0.63" height="1.45"/><rect x="345.47" y="159.89" width="0.63" height="1.45"/><rect x="345.47" y="164.87" width="0.63" height="1.45"/><rect x="345.47" y="169.84" width="0.63" height="1.45"/><rect x="345.47" y="174.83" width="0.63" height="1.45"/></g>
<rect x="324.30" y="65.85" width="21.40" height="113.45" fill="none" stroke="#575757" stroke-width="0.8"/>
<rect x="75.85" y="46.45" width="0.95" height="321.40" fill="#383838"/>
<rect x="71.3" y="65.25" width="5.05" height="0.84" fill="#111"/>
<rect x="71.3" y="102.97" width="5.05" height="0.84" fill="#111"/>
<rect x="71.3" y="140.68" width="5.05" height="0.84" fill="#111"/>
<rect x="71.3" y="178.40" width="5.05" height="0.84" fill="#111"/>
<rect x="71.3" y="216.11" width="5.05" height="0.84" fill="#111"/>
<rect x="71.3" y="253.83" width="5.05" height="0.84" fill="#111"/>
<rect x="71.3" y="291.55" width="5.05" height="0.84" fill="#111"/>
<rect x="71.3" y="329.26" width="5.05" height="0.84" fill="#111"/>
<rect x="71.3" y="366.98" width="5.05" height="0.84" fill="#111"/>
<rect x="75.85" y="64.85" width="292.70" height="1.25" fill="#000"/>
<rect x="148.25" y="65.45" width="1.3" height="3.25" fill="#000"/>
<rect x="294.20" y="65.45" width="1.3" height="3.25" fill="#000"/>
<rect x="367.35" y="65.45" width="1.3" height="3.25" fill="#000"/>
<text transform="translate(130.7 12.2)" text-anchor="start" stroke="#000" stroke-width="0.1" xml:space="preserve">Proportion coarse fraction (  )</text>
<text transform="translate(149.3 33.65)" text-anchor="middle" stroke="#000" stroke-width="0.1" xml:space="preserve">0.6</text>
<text transform="translate(294.9 33.65)" text-anchor="middle" stroke="#000" stroke-width="0.1" xml:space="preserve">0.8</text>
<text transform="translate(63.3 70.42)" text-anchor="end" stroke="#000" stroke-width="0.1" xml:space="preserve">0</text>
<text transform="translate(63.3 108.14)" text-anchor="end" stroke="#000" stroke-width="0.1" xml:space="preserve">-10</text>
<text transform="translate(63.3 145.85)" text-anchor="end" stroke="#000" stroke-width="0.1" xml:space="preserve">-20</text>
<text transform="translate(63.3 183.57)" text-anchor="end" stroke="#000" stroke-width="0.1" xml:space="preserve">-30</text>
<text transform="translate(63.3 221.28)" text-anchor="end" stroke="#000" stroke-width="0.1" xml:space="preserve">-40</text>
<text transform="translate(63.3 259.0)" text-anchor="end" stroke="#000" stroke-width="0.1" xml:space="preserve">-50</text>
<text transform="translate(63.3 296.72)" text-anchor="end" stroke="#000" stroke-width="0.1" xml:space="preserve">-60</text>
<text transform="translate(63.3 334.43)" text-anchor="end" stroke="#000" stroke-width="0.1" xml:space="preserve">-70</text>
<text transform="translate(63.3 372.15)" text-anchor="end" stroke="#000" stroke-width="0.1" xml:space="preserve">-80</text>
<text transform="translate(12.75 191.6) rotate(-90)" text-anchor="middle" textLength="335.9" lengthAdjust="spacing" stroke="#000" stroke-width="0.22" xml:space="preserve">Percentage viscosity difference between chocolate</text>
<text transform="translate(29.75 191.6) rotate(-90)" text-anchor="middle" textLength="348.8" lengthAdjust="spacing" stroke="#000" stroke-width="0.22" xml:space="preserve">samples and sugar/quartz beads model systems (%)</text>
</svg></body></html>
